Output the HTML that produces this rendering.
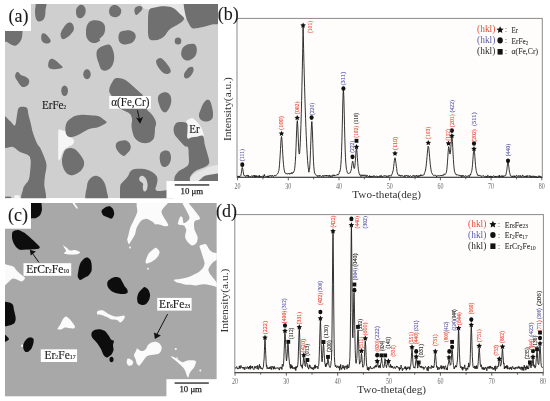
<!DOCTYPE html><html><head><meta charset="utf-8"><title>Microstructure and XRD</title>
<style>html,body{margin:0;padding:0;background:#fff}svg{display:block}text{font-family:'Liberation Serif','DejaVu Serif',serif}</style></head><body>
<svg width="550" height="401" viewBox="0 0 550 401">
<rect width="550" height="401" fill="#fff"/>
<defs><clipPath id="ca"><rect x="5" y="4" width="213" height="194.2"/></clipPath><clipPath id="cc"><rect x="5" y="202.9" width="211.8" height="193.7"/></clipPath><filter id="bl" x="-20%" y="-20%" width="140%" height="140%"><feGaussianBlur stdDeviation="0.45"/></filter><filter id="bl2" x="-20%" y="-20%" width="140%" height="140%"><feGaussianBlur stdDeviation="1.2"/></filter></defs>
<g clip-path="url(#ca)">
<rect x="5" y="4" width="213" height="194.2" fill="#cfcfcf"/>
<g filter="url(#bl)" fill="#e6e6e6">
<path d="M143,2C148.73,1.33 180.53,1.73 186,2C191.47,2.27 184.2,2.93 184,4C183.8,5.07 184.23,8.27 184.5,10C184.77,11.73 185.73,15.8 186,17C186.27,18.2 186.77,18.87 186.5,19C186.23,19.13 184.87,18.67 184,18C183.13,17.33 181.07,15.07 180,14C178.93,12.93 177.07,10.87 176,10C174.93,9.13 173.2,7.97 172,7.5C170.8,7.03 168.6,6.63 167,6.5C165.4,6.37 161.6,6.37 160,6.5C158.4,6.63 156.33,7.17 155,7.5C153.67,7.83 151.2,8.8 150,9C148.8,9.2 146.93,9.27 146,9C145.07,8.73 143.4,7.93 143,7C142.6,6.07 137.27,2.67 143,2Z"/>
<path d="M188.7,183C187.63,182.47 189.43,180.13 190,179C190.57,177.87 191.93,175.5 193,174.5C194.07,173.5 196.67,172.17 198,171.5C199.33,170.83 201.67,170.1 203,169.5C204.33,168.9 206.8,167.47 208,167C209.2,166.53 210.4,166.27 212,166C213.6,165.73 218.93,164.2 220,165C221.07,165.8 221.07,170.8 220,172C218.93,173.2 214,173.53 212,174C210,174.47 206.47,174.97 205,175.5C203.53,176.03 201.93,177 201,178C200.07,179 199.64,182.33 198,183C196.36,183.67 189.77,183.53 188.7,183Z"/>
<ellipse cx="147" cy="6" rx="5" ry="2.5"/>
</g>
<g filter="url(#bl)" fill="#f6f6f6">
<path d="M58.4,130.7C58.76,127.85 61.29,130.47 62,130.5C62.71,130.53 65.1,130.65 65.5,131C65.9,131.35 65.65,133.4 66,134C66.35,134.6 68.3,136.5 69,137C69.7,137.5 72.49,138.5 73,139C73.51,139.5 74.2,141.4 74.1,142C74,142.6 72.61,144.5 72,145C71.39,145.5 68.7,146.6 68,147C67.3,147.4 65.5,148.55 65,149C64.5,149.45 63.35,150.9 63,151.5C62.65,152.1 61.75,154.3 61.5,155C61.25,155.7 60.81,158.1 60.5,158.5C60.19,158.9 58.61,161.78 58.4,159C58.19,156.22 58.04,133.55 58.4,130.7Z"/>
<path d="M186.2,121.5C186.68,120.31 190.92,118.25 191.8,118.1C192.68,117.95 194.33,119.46 195,120C195.67,120.54 197.88,122.76 198.5,123.5C199.12,124.24 200.75,126.55 201.2,127.4C201.65,128.25 202.75,131.13 203,132C203.25,132.87 204.3,135.6 203.7,136.1C203.1,136.6 198.17,136.79 197,137C195.83,137.21 192.96,137.97 192,138.2C191.04,138.43 187.9,140.12 187.4,139.3C186.9,138.48 187.12,131.78 187,130C186.88,128.22 185.72,122.69 186.2,121.5Z"/>
<ellipse cx="17" cy="196.5" rx="3" ry="1.5"/>
<ellipse cx="30.5" cy="157" rx="1.2" ry="1.5"/>
</g>
<g filter="url(#bl)" fill="#6f6f6f">
<path d="M37,2C38.75,1.17 44.58,0.67 46,2C47.42,3.33 45.67,7.67 45.5,10C45.33,12.33 45.42,14.33 45,16C44.58,17.67 43.92,19.08 43,20C42.08,20.92 40.5,21.42 39.5,21.5C38.5,21.58 37.67,21.25 37,20.5C36.33,19.75 35.83,18.58 35.5,17C35.17,15.42 35,12.67 35,11C35,9.33 35.17,8.5 35.5,7C35.83,5.5 35.25,2.83 37,2Z"/>
<path d="M3,25C6.25,22.5 19.25,24 22.5,25C25.75,26 22.58,29 22.5,31C22.42,33 22.33,35.33 22,37C21.67,38.67 21.25,39.75 20.5,41C19.75,42.25 18.5,43.72 17.5,44.5C16.5,45.28 15.58,45.7 14.5,45.7C13.42,45.7 12.25,45.12 11,44.5C9.75,43.88 8.33,42.75 7,42C5.67,41.25 3.67,42.83 3,40C2.33,37.17 -0.25,27.5 3,25Z"/>
<path d="M43,33.3C43.58,33.3 44.67,33.47 45.5,34C46.33,34.53 47.17,35.5 48,36.5C48.83,37.5 50.17,39 50.5,40C50.83,41 50.58,41.92 50,42.5C49.42,43.08 48.08,43.5 47,43.5C45.92,43.5 44.42,43.08 43.5,42.5C42.58,41.92 41.87,41.08 41.5,40C41.13,38.92 41.22,37 41.3,36C41.38,35 41.72,34.45 42,34C42.28,33.55 42.42,33.3 43,33.3Z"/>
<path d="M78,6.5C78.67,5.88 79.58,4.97 80.5,4.8C81.42,4.63 82.67,4.8 83.5,5.5C84.33,6.2 85.2,7.67 85.5,9C85.8,10.33 85.72,12.17 85.3,13.5C84.88,14.83 83.88,16.2 83,17C82.12,17.8 81,18.38 80,18.3C79,18.22 77.67,17.55 77,16.5C76.33,15.45 76.08,13.33 76,12C75.92,10.67 76.17,9.42 76.5,8.5C76.83,7.58 77.33,7.12 78,6.5Z"/>
<path d="M68.5,22.8C69.42,22.55 70.67,22.47 71.5,23C72.33,23.53 73.13,24.83 73.5,26C73.87,27.17 74.12,28.67 73.7,30C73.28,31.33 72.12,32.75 71,34C69.88,35.25 68.33,36.63 67,37.5C65.67,38.37 64,39.28 63,39.2C62,39.12 61.37,38.03 61,37C60.63,35.97 60.47,34.42 60.8,33C61.13,31.58 62.13,29.92 63,28.5C63.87,27.08 65.08,25.45 66,24.5C66.92,23.55 67.58,23.05 68.5,22.8Z"/>
<path d="M90,21.5C91.33,20.62 93.33,20.28 95,20.2C96.67,20.12 98.5,20.37 100,21C101.5,21.63 103.15,22.67 104,24C104.85,25.33 105.1,27.33 105.1,29C105.1,30.67 104.68,32.58 104,34C103.32,35.42 101.75,36.7 101,37.5C100.25,38.3 99.67,38.3 99.5,38.8C99.33,39.3 100.42,39.88 100,40.5C99.58,41.12 98.17,42.08 97,42.5C95.83,42.92 94.33,43.25 93,43C91.67,42.75 90.08,42 89,41C87.92,40 87,38.67 86.5,37C86,35.33 85.92,32.92 86,31C86.08,29.08 86.33,27.08 87,25.5C87.67,23.92 88.67,22.38 90,21.5Z"/>
<path d="M110.5,7C111.13,6.22 111.92,5.55 113,5.3C114.08,5.05 115.75,4.97 117,5.5C118.25,6.03 119.8,7.42 120.5,8.5C121.2,9.58 121.37,10.83 121.2,12C121.03,13.17 120.37,14.63 119.5,15.5C118.63,16.37 117.25,17.03 116,17.2C114.75,17.37 113.08,17.03 112,16.5C110.92,15.97 109.97,15.08 109.5,14C109.03,12.92 109.03,11.17 109.2,10C109.37,8.83 109.87,7.78 110.5,7Z"/>
<path d="M136,7C136.9,6.5 138.93,5.92 140,6C141.07,6.08 142.15,6.75 142.4,7.5C142.65,8.25 142.15,9.5 141.5,10.5C140.85,11.5 139.42,12.75 138.5,13.5C137.58,14.25 136.67,15.25 136,15C135.33,14.75 134.73,13 134.5,12C134.27,11 134.35,9.83 134.6,9C134.85,8.17 135.1,7.5 136,7Z"/>
<path d="M150,9C151.12,7.92 153.33,7.92 155,7.5C156.67,7.08 158,6.67 160,6.5C162,6.33 165,6.33 167,6.5C169,6.67 170.5,6.92 172,7.5C173.5,8.08 174.67,8.92 176,10C177.33,11.08 178.67,12.67 180,14C181.33,15.33 183.5,16.92 184,18C184.5,19.08 183.5,19.77 183,20.5C182.5,21.23 182.33,21.48 181,22.4C179.67,23.32 177,24.73 175,26C173,27.27 170.75,28.33 169,30C167.25,31.67 166,34.5 164.5,36C163,37.5 161.58,38.28 160,39C158.42,39.72 156.67,40.22 155,40.3C153.33,40.38 151.13,40.38 150,39.5C148.87,38.62 148.53,37.42 148.2,35C147.87,32.58 147.98,28.5 148,25C148.02,21.5 147.97,16.67 148.3,14C148.63,11.33 148.88,10.08 150,9Z"/>
<path d="M183.6,2C186.33,1.67 193.93,2 200,2C206.07,2 216.67,0.33 220,2C223.33,3.67 220,8.5 220,12C220,15.5 221.33,20.92 220,23C218.67,25.08 214.5,23.92 212,24.5C209.5,25.08 207.33,25.92 205,26.5C202.67,27.08 200.17,27.75 198,28C195.83,28.25 193.67,29 192,28C190.33,27 189,23.83 188,22C187,20.17 186.58,19 186,17C185.42,15 184.85,11.83 184.5,10C184.15,8.17 184.05,7 183.9,6C183.75,5 183.65,4.67 183.6,4C183.55,3.33 180.87,2.33 183.6,2Z"/>
<path d="M121,31.5C122.17,30.9 124.33,30.52 126,30.4C127.67,30.28 129.58,30.37 131,30.8C132.42,31.23 133.72,31.97 134.5,33C135.28,34.03 135.87,35.58 135.7,37C135.53,38.42 134.62,40.37 133.5,41.5C132.38,42.63 130.58,43.32 129,43.8C127.42,44.28 125.5,44.62 124,44.4C122.5,44.18 120.92,43.48 120,42.5C119.08,41.52 118.67,39.92 118.5,38.5C118.33,37.08 118.58,35.17 119,34C119.42,32.83 119.83,32.1 121,31.5Z"/>
<path d="M184,46.5C185,45.62 186.42,44.65 188,44.2C189.58,43.75 192.17,43.5 193.5,43.8C194.83,44.1 195.45,44.88 196,46C196.55,47.12 196.88,48.92 196.8,50.5C196.72,52.08 196.3,54.08 195.5,55.5C194.7,56.92 193.25,58.15 192,59C190.75,59.85 189.42,60.6 188,60.6C186.58,60.6 184.63,60.02 183.5,59C182.37,57.98 181.45,56.08 181.2,54.5C180.95,52.92 181.53,50.83 182,49.5C182.47,48.17 183,47.38 184,46.5Z"/>
<path d="M16,73C16.47,72.18 17.17,71.77 18,72.1C18.83,72.43 19.83,74.27 21,75C22.17,75.73 23.75,75.83 25,76.5C26.25,77.17 27.8,78.08 28.5,79C29.2,79.92 29.37,80.92 29.2,82C29.03,83.08 28.45,84.65 27.5,85.5C26.55,86.35 24.67,87.1 23.5,87.1C22.33,87.1 21.5,86.52 20.5,85.5C19.5,84.48 18.38,82.42 17.5,81C16.62,79.58 15.45,78.33 15.2,77C14.95,75.67 15.53,73.82 16,73Z"/>
<path d="M49,61C49.55,59.78 50.5,58.87 51.5,58.7C52.5,58.53 53.75,59.2 55,60C56.25,60.8 57.72,62.28 59,63.5C60.28,64.72 62.7,66.42 62.7,67.3C62.7,68.18 60.45,68.48 59,68.8C57.55,69.12 55.5,69.25 54,69.2C52.5,69.15 50.97,69.03 50,68.5C49.03,67.97 48.37,67.25 48.2,66C48.03,64.75 48.45,62.22 49,61Z"/>
<path d="M98,49C99.08,47.83 101.33,46.75 103,46C104.67,45.25 106.67,44.5 108,44.5C109.33,44.5 110.08,44.75 111,46C111.92,47.25 112.97,50 113.5,52C114.03,54 114.28,56 114.2,58C114.12,60 113.7,62.25 113,64C112.3,65.75 111.33,67.38 110,68.5C108.67,69.62 106.5,70.62 105,70.7C103.5,70.78 102,70.12 101,69C100,67.88 99.67,65.83 99,64C98.33,62.17 97.42,59.83 97,58C96.58,56.17 96.33,54.5 96.5,53C96.67,51.5 96.92,50.17 98,49Z"/>
<path d="M157,59.5C157.65,58.92 159,58 160,58C161,58 161.83,58.5 163,59.5C164.17,60.5 165.83,62.5 167,64C168.17,65.5 169.4,67.17 170,68.5C170.6,69.83 171.02,71.08 170.6,72C170.18,72.92 168.68,73.83 167.5,74C166.32,74.17 164.75,73.75 163.5,73C162.25,72.25 161.08,70.83 160,69.5C158.92,68.17 157.65,66.33 157,65C156.35,63.67 156.1,62.42 156.1,61.5C156.1,60.58 156.35,60.08 157,59.5Z"/>
<path d="M189,67.5C189.92,67.08 191.73,66.58 192.5,67C193.27,67.42 193.68,68.83 193.6,70C193.52,71.17 192.77,72.75 192,74C191.23,75.25 190,76.77 189,77.5C188,78.23 186.83,78.57 186,78.4C185.17,78.23 184.25,77.4 184,76.5C183.75,75.6 184,74.17 184.5,73C185,71.83 186.25,70.42 187,69.5C187.75,68.58 188.08,67.92 189,67.5Z"/>
<path d="M159,95C159.85,93.93 161.67,93.03 163,92.6C164.33,92.17 165.83,92 167,92.4C168.17,92.8 169.28,93.73 170,95C170.72,96.27 171.22,98.33 171.3,100C171.38,101.67 171.05,103.33 170.5,105C169.95,106.67 168.92,108.75 168,110C167.08,111.25 166.08,112.5 165,112.5C163.92,112.5 162.5,111.42 161.5,110C160.5,108.58 159.6,105.83 159,104C158.4,102.17 157.9,100.5 157.9,99C157.9,97.5 158.15,96.07 159,95Z"/>
<path d="M204.5,102C205.17,101.17 205.75,100.33 206.5,100C207.25,99.67 208.33,99.67 209,100C209.67,100.33 210,100.83 210.5,102C211,103.17 211.58,105.17 212,107C212.42,108.83 212.92,111.17 213,113C213.08,114.83 213,116.75 212.5,118C212,119.25 211.08,119.92 210,120.5C208.92,121.08 207.33,121.5 206,121.5C204.67,121.5 203.08,121.08 202,120.5C200.92,119.92 200,119 199.5,118C199,117 198.83,115.83 199,114.5C199.17,113.17 199.92,111.58 200.5,110C201.08,108.42 201.83,106.33 202.5,105C203.17,103.67 203.83,102.83 204.5,102Z"/>
<path d="M115,78.5C116.33,77.8 118.33,78.1 120,78.3C121.67,78.5 123.33,78.85 125,79.7C126.67,80.55 128.33,82.03 130,83.4C131.67,84.77 133.33,86.38 135,87.9C136.67,89.42 138.67,91.15 140,92.5C141.33,93.85 141.92,93.3 143,96C144.08,98.7 145.33,105.95 146.5,108.7C147.67,111.45 148.92,111.28 150,112.5C151.08,113.72 152.08,114.67 153,116C153.92,117.33 155,119.1 155.5,120.5C156,121.9 156.08,123.15 156,124.4C155.92,125.65 155.2,126.57 155,128C154.8,129.43 155.05,131.17 154.8,133C154.55,134.83 154.47,137.42 153.5,139C152.53,140.58 150.75,141.83 149,142.5C147.25,143.17 144.83,143.25 143,143C141.17,142.75 139.42,141.92 138,141C136.58,140.08 135.42,139 134.5,137.5C133.58,136 133,133.92 132.5,132C132,130.08 131.58,128.17 131.5,126C131.42,123.83 132.25,121 132,119C131.75,117 131.17,115.33 130,114C128.83,112.67 126.58,111.92 125,111C123.42,110.08 122.17,110.17 120.5,108.5C118.83,106.83 116.67,103.42 115,101C113.33,98.58 111.47,95.68 110.5,94C109.53,92.32 109.28,92.17 109.2,90.9C109.12,89.63 109.53,87.8 110,86.4C110.47,85 111.17,83.82 112,82.5C112.83,81.18 113.67,79.2 115,78.5Z"/>
<path d="M22,106.7C23.42,106.67 25.92,106.62 27,108C28.08,109.38 27.92,112.6 28.5,115C29.08,117.4 29.75,119.4 30.5,122.4C31.25,125.4 31.92,129.5 33,133C34.08,136.5 35.83,140.98 37,143.4C38.17,145.82 38.83,145.32 40,147.5C41.17,149.68 42.92,153.52 44,156.5C45.08,159.48 46.33,162.15 46.5,165.4C46.67,168.65 45.37,172.73 45,176C44.63,179.27 44.37,180.83 44.3,185C44.23,189.17 48.23,198.33 44.6,201C40.97,203.67 26.1,202.93 22.5,201C18.9,199.07 22.58,192.07 23,189.4C23.42,186.73 24,186.73 25,185C26,183.27 28.08,182 29,179C29.92,176 30.25,170.25 30.5,167C30.75,163.75 30.92,161.5 30.5,159.5C30.08,157.5 29.75,156.25 28,155C26.25,153.75 22.5,153.33 20,152C17.5,150.67 15.83,148.08 13,147C10.17,145.92 4.67,150.5 3,145.5C1.33,140.5 1.83,121.08 3,117C4.17,112.92 8,119.6 10,121C12,122.4 13.83,126.4 15,125.4C16.17,124.4 16.42,117.87 17,115C17.58,112.13 17.67,109.58 18.5,108.2C19.33,106.82 20.58,106.73 22,106.7Z"/>
<path d="M70,119C71.33,118 73,116.7 75,116C77,115.3 79.5,114.93 82,114.8C84.5,114.67 87.33,115 90,115.2C92.67,115.4 96,115.5 98,116C100,116.5 100.57,117.2 102,118.2C103.43,119.2 106.27,121 106.6,122C106.93,123 105.43,123.33 104,124.2C102.57,125.07 100.33,126.45 98,127.2C95.67,127.95 92.17,128.07 90,128.7C87.83,129.33 86.67,130.12 85,131C83.33,131.88 81.67,133.13 80,134C78.33,134.87 76.5,135.7 75,136.2C73.5,136.7 72.33,137.13 71,137C69.67,136.87 67.92,136.4 67,135.4C66.08,134.4 65.75,132.5 65.5,131C65.25,129.5 65.25,127.9 65.5,126.4C65.75,124.9 66.25,123.23 67,122C67.75,120.77 68.67,120 70,119Z"/>
<path d="M64,152C64.83,150.13 65.67,149.43 67,148.8C68.33,148.17 70.5,148 72,148.2C73.5,148.4 74.67,148.95 76,150C77.33,151.05 78.75,152.83 80,154.5C81.25,156.17 82.83,158.25 83.5,160C84.17,161.75 84.33,163.33 84,165C83.67,166.67 82.83,168.5 81.5,170C80.17,171.5 77.83,173.13 76,174C74.17,174.87 72.17,175.45 70.5,175.2C68.83,174.95 67.25,173.87 66,172.5C64.75,171.13 63.67,169.08 63,167C62.33,164.92 61.83,162.5 62,160C62.17,157.5 63.17,153.87 64,152Z"/>
<path d="M86.7,201C83.43,198.5 86.62,189.5 87,186C87.38,182.5 88,181.58 89,180C90,178.42 91.67,177.17 93,176.5C94.33,175.83 95.67,175.75 97,176C98.33,176.25 99.75,176.83 101,178C102.25,179.17 103.58,181 104.5,183C105.42,185 106.15,187 106.5,190C106.85,193 109.9,199.17 106.6,201C103.3,202.83 89.97,203.5 86.7,201Z"/>
<path d="M117,142.5C117.88,141.63 119.67,141.18 121,140.8C122.33,140.42 123.75,140 125,140.2C126.25,140.4 127.55,141.03 128.5,142C129.45,142.97 130.45,144.67 130.7,146C130.95,147.33 130.62,148.75 130,150C129.38,151.25 128,152.5 127,153.5C126,154.5 125.08,155.92 124,156C122.92,156.08 121.67,155 120.5,154C119.33,153 117.8,151.33 117,150C116.2,148.67 115.7,147.25 115.7,146C115.7,144.75 116.12,143.37 117,142.5Z"/>
<path d="M130.1,171.8C130.83,170.87 131.68,170.12 132.9,169.6C134.12,169.08 135.52,168.8 137.4,168.7C139.28,168.6 142.13,168.67 144.2,169C146.27,169.33 148.13,169.95 149.8,170.7C151.47,171.45 153,172.47 154.2,173.5C155.4,174.53 156.47,175.68 157,176.9C157.53,178.12 157.48,179.4 157.4,180.8C157.32,182.2 156.83,183.9 156.5,185.3C156.17,186.7 155.22,188.27 155.4,189.2C155.58,190.13 156.48,190.65 157.6,190.9C158.72,191.15 160.57,190.8 162.1,190.7C163.63,190.6 165.15,190.42 166.8,190.3C168.45,190.18 171.13,188.22 172,190C172.87,191.78 176.33,199.17 172,201C167.67,202.83 154.67,201 146,201C137.33,201 124.33,201.33 120,201C115.67,200.67 120,199.83 120,199C120,198.17 120,197.18 120,196C120,194.82 119.93,193.68 120,191.9C120.07,190.12 120.02,186.87 120.4,185.3C120.78,183.73 121.42,183.53 122.3,182.5C123.18,181.47 124.67,180.32 125.7,179.1C126.73,177.88 127.77,176.42 128.5,175.2C129.23,173.98 129.37,172.73 130.1,171.8Z"/>
<path d="M161,152.5C161.83,151.75 163.67,150.67 165,150.5C166.33,150.33 168.02,150.58 169,151.5C169.98,152.42 170.65,154.42 170.9,156C171.15,157.58 170.98,159.42 170.5,161C170.02,162.58 169.08,164.5 168,165.5C166.92,166.5 165.17,167.17 164,167C162.83,166.83 161.72,165.83 161,164.5C160.28,163.17 159.87,160.58 159.7,159C159.53,157.42 159.78,156.08 160,155C160.22,153.92 160.17,153.25 161,152.5Z"/>
<path d="M176.9,122.5C178.38,121.57 180.88,121.9 182.6,122.1C184.32,122.3 186.38,122.38 187.2,123.7C188.02,125.02 187.45,127.57 187.5,130C187.55,132.43 186.75,137.08 187.5,138.3C188.25,139.52 190.42,137.55 192,137.3C193.58,137.05 195.18,137.03 197,136.8C198.82,136.57 201.58,134.53 202.9,135.9C204.22,137.27 204.15,142.03 204.9,145C205.65,147.97 206.67,150.9 207.4,153.7C208.13,156.5 209.3,159.83 209.3,161.8C209.3,163.77 208.55,164.47 207.4,165.5C206.25,166.53 204.27,167.17 202.4,168C200.53,168.83 197.87,169.55 196.2,170.5C194.53,171.45 193.45,172.55 192.4,173.7C191.35,174.85 190.52,175.85 189.9,177.4C189.28,178.95 191.28,182.07 188.7,183C186.12,183.93 176.78,183.52 174.4,183C172.02,182.48 174.3,181.05 174.4,179.9C174.5,178.75 174.28,177.55 175,176.1C175.72,174.65 177.03,172.65 178.7,171.2C180.37,169.75 183.33,168.65 185,167.4C186.67,166.15 188.08,165.77 188.7,163.7C189.32,161.63 188.8,157.7 188.7,155C188.6,152.3 188.72,148.97 188.1,147.5C187.48,146.03 186.15,147.03 185,146.2C183.85,145.37 182.42,143.78 181.2,142.5C179.98,141.22 178.82,139.88 177.7,138.5C176.58,137.12 175.17,136 174.5,134.2C173.83,132.4 173.3,129.65 173.7,127.7C174.1,125.75 175.42,123.43 176.9,122.5Z"/>
<path d="M199,183C196,182.17 200.83,179.25 202,178C203.17,176.75 204.33,176.08 206,175.5C207.67,174.92 209.67,174.75 212,174.5C214.33,174.25 218.67,172.58 220,174C221.33,175.42 223.5,181.5 220,183C216.5,184.5 202,183.83 199,183Z"/>
<ellipse cx="8" cy="197.6" rx="3.5" ry="1.2"/>
<ellipse cx="178" cy="41" rx="3.3" ry="3.6"/>
<ellipse cx="87" cy="74.2" rx="3.7" ry="5"/>
<ellipse cx="64.6" cy="90.8" rx="3.4" ry="5.2"/>
</g>
<g filter="url(#bl)" fill="#cfcfcf">
<path d="M139.5,177.5C139.92,176.72 141.17,175.88 142,175.8C142.83,175.72 143.78,176.38 144.5,177C145.22,177.62 145.8,178.33 146.3,179.5C146.8,180.67 147.35,182.5 147.5,184C147.65,185.5 147.53,187.3 147.2,188.5C146.87,189.7 146.12,190.82 145.5,191.2C144.88,191.58 143.95,191.5 143.5,190.8C143.05,190.1 142.85,188.13 142.8,187C142.75,185.87 143.42,184.8 143.2,184C142.98,183.2 142.12,182.78 141.5,182.2C140.88,181.62 139.83,181.28 139.5,180.5C139.17,179.72 139.08,178.28 139.5,177.5Z" fill="#d6d6d6"/>
</g>
</g>
<rect x="0" y="0" width="31" height="31" fill="#fff"/>
<text x="8.6" y="21.8" font-size="18" fill="#1a1a1a" stroke="#1a1a1a" stroke-width="0.12">(a)</text>
<rect x="109.3" y="96" width="41.6" height="12.7" fill="#fff"/>
<text x="111.2" y="105.8" font-size="11.5" fill="#1a1a1a" stroke="#1a1a1a" stroke-width="0.12" textLength="38.2" lengthAdjust="spacingAndGlyphs">α(Fe,Cr)</text>
<path d="M137.4,110.2L139.6,120" stroke="#111" stroke-width="1"/><path d="M136,117.4L140.1,123.8L143.2,116.8L139.7,118.8Z" fill="#111"/>
<text x="41.9" y="109.2" font-size="11.5" fill="#1e1e1e" stroke="#1e1e1e" stroke-width="0.15" textLength="24.4" lengthAdjust="spacingAndGlyphs">ErFe<tspan font-size="5.6" dy="0.2">2</tspan></text>
<text x="189.3" y="132.6" font-size="11.5" fill="#1e1e1e" stroke="#1e1e1e" stroke-width="0.15" textLength="10.4" lengthAdjust="spacingAndGlyphs">Er</text>
<rect x="166.5" y="181" width="52" height="17.5" fill="#fff"/>
<rect x="174.7" y="184.3" width="34.6" height="1.3" fill="#222"/>
<text x="180.6" y="193.6" font-size="8.8" fill="#222" stroke="#222" stroke-width="0.25" textLength="22.4" lengthAdjust="spacing">10 μm</text>
<g clip-path="url(#cc)">
<rect x="5" y="202.9" width="211.8" height="193.7" fill="#a8a8a8"/>
<g filter="url(#bl)" fill="#fbfbfb">
<path d="M71.8,202C71.4,201.15 72.83,201.28 73.6,202C74.37,202.72 77.2,206.55 77.6,207.4C78,208.25 77.37,209.12 76.6,208.4C75.83,207.68 72.2,202.85 71.8,202Z"/>
<path d="M63,245.2C63.33,245.2 66.07,247.29 67,248C67.93,248.71 68.93,250.23 70,250.5C71.07,250.77 73.8,249.87 75,250C76.2,250.13 78.33,251.1 79,251.5C79.67,251.9 80.4,252.6 80,253C79.6,253.4 77.6,254.3 76,254.5C74.4,254.7 69.6,254.63 68,254.5C66.4,254.37 64.27,253.97 64,253.5C63.73,253.03 65.93,251.73 66,251C66.07,250.27 64.9,248.77 64.5,248C64.1,247.23 62.67,245.2 63,245.2Z"/>
<path d="M149,253C149.8,252 152.07,250.19 153,249.5C153.93,248.81 155.13,247.53 156,247.8C156.87,248.07 159.17,250.47 159.5,251.5C159.83,252.53 159.1,254.43 158.5,255.5C157.9,256.57 156.13,258.57 155,259.5C153.87,260.43 151.13,261.97 150,262.5C148.87,263.03 147.09,263.63 146.5,263.5C145.91,263.37 145.53,262.37 145.6,261.5C145.67,260.63 146.55,258.13 147,257C147.45,255.87 148.2,254 149,253Z"/>
<path d="M57.5,329C57.37,328.4 59.27,326.33 60,325C60.73,323.67 62.2,320.13 63,319C63.8,317.87 65.2,316.57 66,316.5C66.8,316.43 68.2,317.77 69,318.5C69.8,319.23 71.2,320.93 72,322C72.8,323.07 74.8,325.63 75,326.5C75.2,327.37 74.3,328.3 73.5,328.5C72.7,328.7 70.13,328.13 69,328C67.87,327.87 66.07,327.3 65,327.5C63.93,327.7 62,329.3 61,329.5C60,329.7 57.63,329.6 57.5,329Z"/>
<path d="M97,312C97.2,311.48 98.33,310.83 99,310.6C99.67,310.37 101.27,310.22 102,310.3C102.73,310.38 103.61,310.71 104.5,311.2C105.39,311.69 107.25,313.28 108.7,314C110.15,314.72 113.8,316.33 115.4,316.6C117,316.87 119.55,316.15 120.7,316C121.85,315.85 123.45,315.3 124,315.5C124.55,315.7 125,316.77 124.8,317.5C124.6,318.23 123.14,320.33 122.5,321C121.86,321.67 120.73,322.63 120,322.5C119.27,322.37 118.2,320.44 117,320C115.8,319.56 112.41,319.63 111,319.2C109.59,318.77 107.71,317.37 106.4,316.8C105.09,316.23 102.39,315.21 101.2,314.9C100.01,314.59 98.06,314.89 97.5,314.5C96.94,314.11 96.8,312.52 97,312Z"/>
<path d="M148,345C148.8,344.11 150.93,342.74 152,342.3C153.07,341.86 155,341.54 156,341.7C157,341.86 158.75,342.79 159.5,343.5C160.25,344.21 161.4,346 161.6,347C161.8,348 161.48,350.07 161,351C160.52,351.93 159.2,353.47 158,354C156.8,354.53 153.27,354.8 152,355C150.73,355.2 149.3,355.23 148.5,355.5C147.7,355.77 146.73,356.27 146,357C145.27,357.73 143.87,359.85 143,361C142.13,362.15 140.3,365.2 139.5,365.6C138.7,366 137.53,364.88 137,364C136.47,363.12 135.9,360.2 135.5,359C135.1,357.8 133.93,356.07 134,355C134.07,353.93 135.6,351.87 136,351C136.4,350.13 136.47,348.57 137,348.5C137.53,348.43 139.2,350.17 140,350.5C140.8,350.83 142.2,351.2 143,351C143.8,350.8 145.33,349.8 146,349C146.67,348.2 147.2,345.89 148,345Z"/>
<path d="M128,358.5C128.53,358.43 130.31,359.03 131,359.5C131.69,359.97 133.07,361.27 133.2,362C133.33,362.73 132.63,364.52 132,365C131.37,365.48 129.19,365.87 128.5,365.6C127.81,365.33 127,363.75 126.8,363C126.6,362.25 126.84,360.6 127,360C127.16,359.4 127.47,358.57 128,358.5Z"/>
<path d="M170.8,356.2C170.93,356.03 172.67,356.65 173.5,357C174.33,357.35 176.07,358.24 177,358.8C177.93,359.36 179.7,360.75 180.5,361.2C181.3,361.65 182.27,362.23 183,362.2C183.73,362.17 185.13,361.27 186,361C186.87,360.73 188.57,360.29 189.5,360.2C190.43,360.11 192.16,360.17 193,360.3C193.84,360.43 195.47,360.71 195.8,361.2C196.13,361.69 195.74,363.16 195.5,364C195.26,364.84 194.53,366.63 194,367.5C193.47,368.37 192.1,369.7 191.5,370.5C190.9,371.3 189.94,372.57 189.5,373.5C189.06,374.43 188.56,377.23 188.2,377.5C187.84,377.77 187.16,376.3 186.8,375.5C186.44,374.7 185.94,372.5 185.5,371.5C185.06,370.5 184.23,368.93 183.5,368C182.77,367.07 181,365.43 180,364.5C179,363.57 177,361.83 176,361C175,360.17 173.19,358.94 172.5,358.3C171.81,357.66 170.67,356.37 170.8,356.2Z"/>
<path d="M138.7,200C142.79,198.4 164.01,199.6 167.9,200C171.79,200.4 168.75,201.4 167.9,203C167.05,204.6 161.46,209.11 161.5,212C161.54,214.89 167.8,222.81 168.2,224.7C168.6,226.59 165.59,226.2 164.5,226.2C163.41,226.2 161.27,224.97 160,224.7C158.73,224.43 155.85,224.51 155,224.2C154.15,223.89 154.28,222.93 153.6,222.4C152.92,221.87 150.89,220.69 149.9,220.2C148.91,219.71 147.29,218.7 146.2,218.7C145.11,218.7 142.7,219.51 141.7,220.2C140.7,220.89 139.41,222.81 138.7,223.9C137.99,224.99 136.89,227 136.4,228.4C135.91,229.8 135.79,232.6 135,234.4C134.21,236.2 131.34,240.61 130.5,241.9C129.66,243.19 129.14,244.41 128.7,244.1C128.26,243.79 127.27,240.69 127.2,239.6C127.13,238.51 127.76,237.59 128.2,235.9C128.64,234.21 129.79,228.9 130.5,226.9C131.21,224.9 132.61,222.89 133.5,220.9C134.39,218.91 136.51,214.79 137.2,212C137.89,209.21 134.61,201.6 138.7,200Z"/>
<path d="M182.4,200C183.24,199.6 187.86,199.6 188.7,200C189.54,200.4 187.21,200.64 188.7,203C190.19,205.36 199.03,215.34 199.9,217.7C200.77,220.06 195.99,219.91 195.2,220.7C194.41,221.49 194.08,222.36 194,223.6C193.92,224.84 194.12,228.21 194.6,230C195.08,231.79 197.36,235.27 197.6,237C197.84,238.73 197.15,241.85 196.4,243C195.65,244.15 193.19,245.76 192,245.6C190.81,245.44 188.42,242.95 187.5,241.8C186.58,240.65 185.26,238.57 185.1,237C184.94,235.43 186.22,231.15 186.3,230C186.38,228.85 186.01,229.01 185.7,228.4C185.39,227.79 184.76,225.85 184,225.4C183.24,224.95 180.81,225.19 180,225C179.19,224.81 178.13,224.44 177.9,224C177.67,223.56 177.99,222.66 178.3,221.7C178.61,220.74 179.65,217.4 180.2,216.8C180.75,216.2 181.91,216.35 182.4,217.2C182.89,218.05 182.95,223.15 183.9,223.2C184.85,223.25 189.7,220.29 189.5,217.6C189.3,214.91 183.35,205.35 182.4,203C181.45,200.65 181.56,200.4 182.4,200Z"/>
<path d="M200.7,250C200.17,248.27 199.19,246.73 199.5,246C199.81,245.27 202.13,244.74 203,244.5C203.87,244.26 205.11,243.47 206,244.2C206.89,244.93 208.83,248.93 209.7,250C210.57,251.07 211.53,251.79 212.5,252.2C213.47,252.61 216,252.99 217,253.1C218,253.21 219.6,252.13 220,253C220.4,253.87 220.4,258.72 220,259.6C219.6,260.48 218.08,259.08 217,259.6C215.92,260.12 213.03,262.23 211.9,263.5C210.77,264.77 208.79,267.75 208.5,269.1C208.21,270.45 208.94,272.25 209.7,273.6C210.46,274.95 213.23,278 214.2,279.2C215.17,280.4 216.23,282.15 217,282.6C217.77,283.05 219.6,282 220,282.6C220.4,283.2 220.4,286.5 220,287.1C219.6,287.7 218,287.29 217,287.1C216,286.91 214.3,286.07 212.5,285.7C210.7,285.33 205.75,284.34 203.5,284.3C201.25,284.26 197.4,285.33 195.6,285.4C193.8,285.47 191.41,284.92 190,284.8C188.59,284.68 186.35,284.74 185,284.5C183.65,284.26 180.98,283.25 179.9,283C178.82,282.75 177.7,282.92 176.9,282.6C176.1,282.28 174.19,281 173.9,280.6C173.61,280.2 173.9,279.83 174.7,279.6C175.5,279.37 178.53,279.13 179.9,278.9C181.27,278.67 183.65,278.23 185,277.9C186.35,277.57 188.73,276.89 190,276.4C191.27,275.91 193.3,274.8 194.5,274.2C195.7,273.6 197.88,272.73 199,271.9C200.12,271.07 202.15,269.12 202.9,268C203.65,266.88 204.52,264.7 204.6,263.5C204.68,262.3 204.02,260.8 203.5,259C202.98,257.2 201.23,251.73 200.7,250Z"/>
<ellipse cx="175.8" cy="349" rx="1.1" ry="1"/>
<ellipse cx="200.3" cy="370.6" rx="1" ry="1"/>
<ellipse cx="148" cy="268.7" rx="0.9" ry="0.9"/>
<ellipse cx="22.3" cy="345.8" rx="1.3" ry="1.2"/>
<ellipse cx="177" cy="358" rx="0.8" ry="0.8"/>
<ellipse cx="130" cy="247.5" rx="1" ry="1"/>
<ellipse cx="128.8" cy="242.5" rx="0.8" ry="0.8"/>
</g>
<path d="M3,264C3.4,261.27 5.07,264.3 6,264.5C6.93,264.7 8.93,265.17 10,265.5C11.07,265.83 13.07,266.27 14,267C14.93,267.73 16.07,270 17,271C17.93,272 19.93,273.57 21,274.5C22.07,275.43 24.87,277.07 25,278C25.13,278.93 22.93,281.23 22,281.5C21.07,281.77 19.2,280.4 18,280C16.8,279.6 14.07,278.43 13,278.5C11.93,278.57 10.8,279.83 10,280.5C9.2,281.17 7.93,282.9 7,283.5C6.07,284.1 3.53,287.6 3,285C2.47,282.4 2.6,266.73 3,264Z" fill="#fafafa" filter="url(#bl)"/>
<g filter="url(#bl)" fill="#0c0c0c">
<path d="M29,201C30.28,199.13 38.54,200.65 40,201C41.46,201.35 41.28,202.95 41.5,204C41.72,205.05 42.07,208.69 41.9,210C41.73,211.31 40.69,214.27 40,215.2C39.31,216.13 37.05,217.65 36,218C34.95,218.35 31.82,218.32 31,218.2C30.18,218.08 29.23,219.01 29,217C28.77,214.99 27.72,202.87 29,201Z"/>
<path d="M12.5,232C12.85,231.47 14.24,230.71 15,230.5C15.76,230.29 17.95,229.97 19,230.2C20.05,230.43 22.83,231.76 24,232.5C25.17,233.24 27.79,235.46 29,236.5C30.21,237.54 33.15,240.2 34.4,241.4C35.65,242.6 39.22,245.94 39.7,246.8C40.18,247.66 39.16,248.51 38.5,248.8C37.84,249.09 35.34,249.21 34,249.3C32.66,249.39 28.63,249.54 27,249.6C25.37,249.66 21.23,250.05 20,249.8C18.77,249.56 17.2,248.18 16.5,247.5C15.8,246.82 14.5,244.99 14,244C13.5,243.01 12.43,240.05 12.2,239C11.97,237.95 11.96,235.82 12,235C12.04,234.18 12.15,232.53 12.5,232Z"/>
<path d="M3,303C3.82,300.4 8.83,302.47 10,302.7C11.17,302.93 12.53,304.15 13,305C13.47,305.85 13.69,308.48 14,310C14.31,311.52 15.64,316.48 15.7,318C15.76,319.52 15.16,322.16 14.5,323C13.84,323.84 11.34,324.97 10,325.2C8.66,325.43 3.82,327.59 3,325C2.18,322.41 2.18,305.6 3,303Z"/>
<path d="M3,334.9C3.35,334.14 5.3,335.02 6,335.5C6.7,335.98 9,338.3 9,339C9,339.7 6.7,341.15 6,341.5C5.3,341.85 3.35,342.77 3,342C2.65,341.23 2.65,335.66 3,334.9Z"/>
<path d="M25,341C25.56,340.18 27.24,338.4 28,338C28.76,337.6 30.84,337.43 31.5,337.6C32.16,337.78 33.5,338.75 33.7,339.5C33.9,340.25 33.46,342.95 33.2,344C32.94,345.05 32.05,347.62 31.5,348.5C30.95,349.38 29.2,351.09 28.5,351.5C27.8,351.91 26.08,352.29 25.5,352C24.92,351.71 23.77,349.82 23.5,349C23.23,348.18 23.02,345.93 23.2,345C23.38,344.07 24.44,341.82 25,341Z"/>
<path d="M102,210C102.5,209.36 105.07,207.44 106,207C106.93,206.56 109.18,205.97 110,206.2C110.82,206.43 112.51,208.09 113,209C113.49,209.91 114.32,212.88 114.2,214C114.08,215.12 112.72,218.19 112,218.6C111.28,219.01 108.99,217.86 108,217.5C107.01,217.14 104.23,216.08 103.5,215.5C102.77,214.92 101.88,213.14 101.7,212.5C101.53,211.86 101.5,210.64 102,210Z"/>
<path d="M81,262C81.58,261.15 83.74,258.72 84.5,258.2C85.26,257.68 86.8,257.29 87.5,257.5C88.2,257.71 90.01,259.12 90.5,260C90.99,260.88 91.58,263.72 91.7,265C91.82,266.28 91.87,269.77 91.5,271C91.13,272.23 89.38,274.68 88.5,275.5C87.62,276.32 84.99,277.49 84,278C83.01,278.51 80.73,280.07 80,279.9C79.27,279.72 77.88,277.65 77.7,276.5C77.53,275.35 78.29,271.28 78.5,270C78.71,268.72 79.21,266.43 79.5,265.5C79.79,264.57 80.42,262.85 81,262Z"/>
<path d="M108,281C108.56,280.24 111.07,278.48 112,278C112.93,277.52 115.07,276.9 116,276.9C116.93,276.9 119.18,277.29 120,278C120.82,278.71 122.47,282.07 123,283C123.53,283.93 124.03,285.3 124.5,286C124.97,286.7 126.63,288.24 127,289C127.37,289.76 128.05,291.9 127.7,292.5C127.35,293.1 125.13,293.98 124,294.1C122.87,294.22 119.4,293.8 118,293.5C116.6,293.2 113.11,292.14 112,291.5C110.89,290.86 109.06,288.82 108.5,288C107.94,287.18 107.26,285.32 107.2,284.5C107.14,283.68 107.44,281.76 108,281Z"/>
<path d="M141,290C141.58,289.36 143.03,287.84 143.5,287.5C143.97,287.16 144.42,286.81 145,287.1C145.58,287.39 147.91,289.08 148.5,290C149.09,290.92 150.04,293.83 150.1,295C150.16,296.17 149.48,298.95 149,300C148.52,301.05 146.82,303.4 146,304C145.18,304.6 142.93,305.22 142,305.1C141.07,304.98 138.57,303.83 138,303C137.43,302.17 137.04,299.17 137.1,298C137.16,296.83 138.04,293.93 138.5,293C138.96,292.07 140.42,290.64 141,290Z"/>
<path d="M92,332C92.42,331.39 94.07,330.13 95,329.8C95.93,329.47 98.83,329.06 100,329.2C101.17,329.34 103.95,330.21 105,331C106.05,331.79 108.3,335.01 109,336C109.7,336.99 110.43,338.92 111,339.5C111.57,340.08 113.67,340.36 113.9,341C114.13,341.64 113.05,343.95 113,345C112.95,346.05 113.67,348.89 113.5,350C113.33,351.11 112.26,353.61 111.5,354.5C110.74,355.39 107.93,357.54 107,357.6C106.07,357.66 104.2,356 103.5,355C102.8,354 101.76,350.4 101,349C100.24,347.6 97.99,344.28 97,343C96.01,341.72 93.15,338.93 92.5,338C91.85,337.07 91.46,335.7 91.4,335C91.34,334.3 91.58,332.61 92,332Z"/>
<ellipse cx="111.5" cy="359.5" rx="2" ry="2.8"/>
</g>
</g>
<rect x="0" y="202" width="31" height="26.7" fill="#fff"/>
<text x="8.0" y="220.5" font-size="18" fill="#1a1a1a" stroke="#1a1a1a" stroke-width="0.12">(c)</text>
<rect x="23.5" y="263.2" width="47.7" height="12.6" fill="#fff"/>
<text x="26.2" y="272.9" font-size="11.5" fill="#1e1e1e" stroke="#1e1e1e" stroke-width="0.15" textLength="43" lengthAdjust="spacingAndGlyphs">ErCr<tspan font-size="5.8" dy="0.3">2</tspan><tspan dy="-0.3">Fe</tspan><tspan font-size="5.8" dy="0.3">10</tspan></text>
<path d="M38.9,262.4L31.5,252" stroke="#111" stroke-width="1"/><path d="M29.9,249.7L30.7,255.6L35.9,251.6Z" fill="#111"/>
<rect x="157.2" y="297.9" width="34.4" height="12.7" fill="#fff"/>
<text x="159.1" y="307.7" font-size="11.5" fill="#1e1e1e" stroke="#1e1e1e" stroke-width="0.15" textLength="31.1" lengthAdjust="spacingAndGlyphs">Er<tspan font-size="5.8" dy="0.3">6</tspan><tspan dy="-0.3">Fe</tspan><tspan font-size="5.8" dy="0.3">23</tspan></text>
<path d="M167.6,314.1L156.2,335.8" stroke="#111" stroke-width="1"/><path d="M154.9,338.9L153.9,332.4L160.9,335.6Z" fill="#111"/>
<rect x="40.8" y="349.3" width="36.3" height="12.7" fill="#fff"/>
<text x="44.5" y="359.1" font-size="11.5" fill="#1e1e1e" stroke="#1e1e1e" stroke-width="0.15" textLength="31.1" lengthAdjust="spacingAndGlyphs">Er<tspan font-size="5.8" dy="0.3">2</tspan><tspan dy="-0.3">Fe</tspan><tspan font-size="5.8" dy="0.3">17</tspan></text>
<rect x="166.4" y="379.2" width="52" height="18" fill="#fff"/>
<rect x="174.6" y="382.4" width="34.2" height="1.3" fill="#222"/>
<text x="179.5" y="391.8" font-size="8.8" fill="#222" stroke="#222" stroke-width="0.25" textLength="22.4" lengthAdjust="spacing">10 μm</text>
<rect x="237" y="18.4" width="305.3" height="158.9" fill="#fefdfb" stroke="#8a8a8a" stroke-width="1"/>
<line x1="237" y1="177.3" x2="542.3" y2="177.3" stroke="#3a3a3a" stroke-width="1"/>
<line x1="237.6" y1="177.3" x2="237.6" y2="180.3" stroke="#3a3a3a" stroke-width="0.8"/>
<text x="234.6" y="188.8" font-size="7.2" fill="#666" textLength="6" lengthAdjust="spacingAndGlyphs">20</text>
<line x1="262.95" y1="177.3" x2="262.95" y2="179.3" stroke="#3a3a3a" stroke-width="0.8"/>
<line x1="288.3" y1="177.3" x2="288.3" y2="180.3" stroke="#3a3a3a" stroke-width="0.8"/>
<text x="285.3" y="188.8" font-size="7.2" fill="#666" textLength="6" lengthAdjust="spacingAndGlyphs">30</text>
<line x1="313.65" y1="177.3" x2="313.65" y2="179.3" stroke="#3a3a3a" stroke-width="0.8"/>
<line x1="339" y1="177.3" x2="339" y2="180.3" stroke="#3a3a3a" stroke-width="0.8"/>
<text x="336" y="188.8" font-size="7.2" fill="#666" textLength="6" lengthAdjust="spacingAndGlyphs">40</text>
<line x1="364.35" y1="177.3" x2="364.35" y2="179.3" stroke="#3a3a3a" stroke-width="0.8"/>
<line x1="389.7" y1="177.3" x2="389.7" y2="180.3" stroke="#3a3a3a" stroke-width="0.8"/>
<text x="386.7" y="188.8" font-size="7.2" fill="#666" textLength="6" lengthAdjust="spacingAndGlyphs">50</text>
<line x1="415.05" y1="177.3" x2="415.05" y2="179.3" stroke="#3a3a3a" stroke-width="0.8"/>
<line x1="440.4" y1="177.3" x2="440.4" y2="180.3" stroke="#3a3a3a" stroke-width="0.8"/>
<text x="437.4" y="188.8" font-size="7.2" fill="#666" textLength="6" lengthAdjust="spacingAndGlyphs">60</text>
<line x1="465.75" y1="177.3" x2="465.75" y2="179.3" stroke="#3a3a3a" stroke-width="0.8"/>
<line x1="491.1" y1="177.3" x2="491.1" y2="180.3" stroke="#3a3a3a" stroke-width="0.8"/>
<text x="488.1" y="188.8" font-size="7.2" fill="#666" textLength="6" lengthAdjust="spacingAndGlyphs">70</text>
<line x1="516.45" y1="177.3" x2="516.45" y2="179.3" stroke="#3a3a3a" stroke-width="0.8"/>
<line x1="541.8" y1="177.3" x2="541.8" y2="180.3" stroke="#3a3a3a" stroke-width="0.8"/>
<text x="538.8" y="188.8" font-size="7.2" fill="#666" textLength="6" lengthAdjust="spacingAndGlyphs">80</text>
<polyline fill="none" stroke="#1c1c1c" stroke-width="0.9" stroke-linejoin="round" points="237.6,176.38 237.93,176.95 238.26,175.92 238.59,176.71 238.92,176.17 239.25,176.05 239.58,177.05 239.91,176.25 240.24,175.88 240.57,175.91 240.9,175.48 241.23,173.65 241.56,171.86 241.89,168.72 242.22,167.47 242.3,167.4 242.55,167.9 242.88,169.53 243.21,171.74 243.54,174.06 243.87,175.14 244.2,175.55 244.53,175.96 244.86,175.4 245.19,176.01 245.52,176.3 245.85,176.63 246.18,175.9 246.51,176.03 246.84,175.26 247.17,175.91 247.5,175.17 247.83,175.46 248.16,176.77 248.49,175.32 248.82,176.6 249.15,176.57 249.48,176.24 249.81,176.58 250.14,176.67 250.47,176.94 250.8,176.35 251.13,176.08 251.46,176.03 251.79,175.83 252.12,176.28 252.45,175.97 252.78,176.85 253.11,175.52 253.44,175.7 253.77,175.8 254.1,175.24 254.43,177.16 254.76,175.29 255.09,176.07 255.42,176.07 255.75,177.15 256.08,175.49 256.41,176.77 256.74,176.06 257.07,176.24 257.4,176.01 257.73,176.63 258.06,175.83 258.39,176.24 258.72,176.51 259.05,177.29 259.38,175.29 259.71,176.95 260.04,176.91 260.37,176.18 260.7,176.46 261.03,176.12 261.36,177.12 261.69,176.55 262.02,176.25 262.35,176.19 262.68,176.19 263.01,176.2 263.34,175.85 263.67,177.26 264,175.48 264.33,174.36 264.66,175.93 264.99,176.15 265.32,176.43 265.65,176.18 265.98,176.16 266.31,176.4 266.64,176.74 266.97,176.08 267.3,176.01 267.63,177.14 267.96,176.6 268.29,175.75 268.62,177.27 268.95,176.71 269.28,175.93 269.61,175.51 269.94,176.17 270.27,175.68 270.6,175.48 270.93,175.31 271.26,175.66 271.59,176.5 271.92,175.83 272.25,175.2 272.58,176.13 272.91,175.94 273.24,176.27 273.57,176.45 273.9,175.75 274.23,175.61 274.56,175.58 274.89,174.97 275.22,175.71 275.55,176.08 275.88,175.44 276.21,175.02 276.54,174.81 276.87,174.35 277.2,174.05 277.53,173.92 277.86,173.28 278.19,172.78 278.52,171.22 278.85,170.56 279.18,168.22 279.51,164.71 279.84,160.09 280.17,155.12 280.5,149.34 280.83,143.03 281.16,138.38 281.49,136.47 281.5,136.71 281.82,138.05 282.15,142.84 282.48,148.51 282.81,154.73 283.14,159.95 283.47,164.22 283.8,167.2 284.13,169.32 284.46,171.08 284.79,172.53 285.12,172.99 285.45,172.87 285.78,173.58 286.11,174.09 286.44,173.68 286.77,173.51 287.1,173.54 287.43,174.15 287.76,174.1 288.09,173.35 288.42,173.87 288.75,173.5 289.08,173.28 289.41,174.22 289.74,174.12 290,173.31 290.07,173.59 290.4,173.81 290.73,173.24 291.06,173.37 291.39,173.74 291.72,172.51 292.05,173.31 292.38,173.54 292.71,173.32 293.04,172.18 293.37,172.58 293.7,171.66 294.03,171.63 294.36,170.65 294.69,168.68 295.02,165.55 295.35,161.28 295.68,155.57 296.01,147.53 296.34,138.79 296.67,129.83 297,122.78 297.3,120.97 297.33,120.61 297.66,124.33 297.99,131.1 298.32,139.86 298.65,147.87 298.98,152.62 299.31,154.09 299.64,152.8 299.97,148.46 300.3,142.41 300.63,134.19 300.96,124.5 301.29,113.38 301.62,100.47 301.95,86.36 302.28,70.65 302.61,53.83 302.94,35.79 303.1,26.44 303.27,34.45 303.6,48.44 303.93,62.53 304.26,74.83 304.59,87.19 304.92,98.12 305.25,109.03 305.58,118.48 305.91,127.41 306.24,135.61 306.57,142.7 306.9,149.14 307.23,154.69 307.56,160.28 307.89,164.15 308.22,167.43 308.55,169.86 308.88,172.19 309.21,170.38 309.54,169.18 309.87,165.06 310.2,159.13 310.53,150.42 310.86,140.82 311.19,131.27 311.52,124.09 311.8,121.87 311.85,121.46 312.18,125.57 312.51,133.99 312.84,143.8 313.17,153.23 313.5,161.31 313.83,166.74 314.16,170.16 314.49,172.9 314.82,173.08 315.15,174.37 315.48,174.61 315.81,174.82 316.14,175.29 316.47,175.32 316.8,175.48 317.13,175.59 317.46,176.51 317.79,175.58 318.12,176.16 318.45,176.09 318.78,175.64 319.11,176.18 319.44,175.46 319.77,176.39 320.1,175.56 320.43,175.62 320.76,176.05 321.09,176.39 321.42,176.49 321.75,176.51 322.08,175.97 322.41,175.52 322.74,176.22 323.07,176.21 323.4,175.58 323.73,176.46 324.06,176.2 324.39,175.59 324.72,176.2 325.05,175.41 325.38,175.51 325.71,176.17 326.04,175.28 326.37,175.95 326.7,175.35 327.03,176.3 327.36,175.71 327.69,176.07 328.02,175.27 328.35,175.72 328.68,176.43 329.01,176.28 329.34,175.1 329.67,176.3 330,176.45 330.33,175.82 330.66,176.61 330.99,175.47 331.32,175.77 331.65,176.39 331.98,176.56 332.31,176.55 332.64,175.33 332.97,174.78 333.3,175.75 333.63,174.95 333.96,175.44 334.29,174.89 334.62,175.93 334.95,175.9 335.28,175.71 335.61,175.34 335.94,175.22 336.27,174.94 336.6,175.13 336.93,174.97 337.26,174.91 337.59,174.3 337.92,175.18 338.25,174.27 338.58,174.42 338.91,174.08 339.24,172.5 339.57,171.29 339.9,171.78 340.23,169.83 340.56,167.85 340.89,164.45 341.22,159.37 341.55,151.57 341.88,141.44 342.21,128.52 342.54,114.23 342.87,100.24 343.2,91.77 343.4,90.08 343.53,90.37 343.86,98.05 344.19,111.13 344.52,125.69 344.85,138.88 345.18,150.01 345.51,157.87 345.84,163.22 346.17,166.89 346.5,169.65 346.83,170.52 347.16,172.09 347.49,172.91 347.82,173.17 348.15,173.69 348.48,173.37 348.81,173.54 349.14,173.36 349.47,173.34 349.8,172.78 350.13,172.98 350.46,172.28 350.79,171.15 351.12,170.43 351.45,168.45 351.78,165.7 352.11,163.37 352.44,161.52 352.6,161.24 352.77,161.11 353.1,162.47 353.43,165.14 353.76,167.18 354.09,168.44 354.42,168.35 354.75,167.09 355.08,163.99 355.41,160.13 355.74,155.16 356.07,150.53 356.4,148.47 356.5,148.78 356.73,149.07 357.06,153.06 357.39,157.64 357.72,162.47 358.05,166.63 358.38,169.79 358.71,171.3 359.04,173.1 359.37,174.15 359.7,174.89 360.03,174.46 360.36,175.74 360.69,176.25 361.02,176.69 361.35,174.97 361.68,175.55 362.01,174.69 362.34,175.74 362.67,176.03 363,175.27 363.33,174.97 363.66,175.85 363.99,176.23 364.32,175.6 364.65,175.8 364.98,174.72 365.31,175.49 365.64,176.05 365.97,176.15 366.3,176.9 366.63,175.66 366.96,174.93 367.29,176.18 367.62,175.86 367.95,176.26 368.28,176.55 368.61,176.54 368.94,176.97 369.27,176.99 369.6,175.5 369.93,176.08 370.26,177.2 370.59,176.17 370.92,176.71 371.25,176.29 371.58,176.04 371.91,177.01 372.24,176.89 372.57,176.23 372.9,176.71 373.23,175.68 373.56,175.82 373.89,176.66 374.22,176.36 374.55,175.76 374.88,176.43 375.21,176.47 375.54,176.96 375.87,176.87 376.2,176.24 376.53,176.04 376.86,176.19 377.19,176.16 377.52,177.01 377.85,177.2 378.18,177.11 378.51,176.61 378.84,176.22 379.17,176.73 379.5,176.18 379.83,176.39 380.16,175.47 380.49,175.95 380.82,176.96 381.15,175.87 381.48,175.47 381.81,176.08 382.14,177.08 382.47,177.12 382.8,176.22 383.13,176.02 383.46,176.17 383.79,175.77 384.12,176.19 384.45,176.08 384.78,175.47 385.11,175.82 385.44,176.02 385.77,175.74 386.1,175.56 386.43,176.53 386.76,177.16 387.09,176.14 387.42,175.9 387.75,176.31 388.08,175.98 388.41,175.63 388.74,176.63 389.07,175.53 389.4,175.47 389.73,175.45 390.06,175.27 390.39,175.49 390.72,175.83 391.05,176.18 391.38,175.66 391.71,174.98 392.04,173.8 392.37,173.55 392.7,172.09 393.03,170.9 393.36,169.43 393.69,166.48 394.02,163.53 394.35,160.63 394.68,158.65 395,157.92 395.01,157.72 395.34,158.64 395.67,161.1 396,163.43 396.33,166.44 396.66,168.46 396.99,171.81 397.32,173.06 397.65,174.04 397.98,174.69 398.31,175.09 398.64,175.39 398.97,174.66 399.3,175.59 399.63,175.98 399.96,175.1 400.29,176.15 400.62,176.28 400.95,175.24 401.28,175.65 401.61,175.82 401.94,175.76 402.27,176.23 402.6,175.49 402.93,175.92 403.26,176.22 403.59,176.53 403.92,176.25 404.25,176.07 404.58,176.52 404.91,175.26 405.24,176.53 405.57,176.11 405.9,175.58 406.23,175.92 406.56,175.27 406.89,175.07 407.22,175.9 407.55,175.8 407.88,176.54 408.21,175.85 408.54,175.54 408.87,175.66 409.2,177.02 409.53,176.38 409.86,175.96 410.19,175.71 410.52,175.61 410.85,176.06 411.18,176.43 411.51,176.84 411.84,176.9 412.17,176.46 412.5,175.93 412.83,175.74 413.16,174.99 413.49,175.51 413.82,176.31 414.15,176.04 414.48,176.35 414.81,175.53 415.14,176.52 415.47,176.36 415.8,176.19 416.13,176.34 416.46,175.03 416.79,175.66 417.12,175.57 417.45,176.9 417.78,176.08 418.11,175.78 418.44,176.39 418.77,175.51 419.1,176.59 419.43,175.66 419.76,175.81 420.09,175.37 420.42,176.12 420.75,174.7 421.08,175.87 421.41,175.23 421.74,175.5 422.07,174.87 422.4,175.37 422.73,175.32 423.06,175.38 423.39,175.09 423.72,174.98 424.05,174.85 424.38,173.71 424.71,172.54 425.04,171.46 425.37,171.09 425.7,168.9 426.03,166.91 426.36,163.83 426.69,160.16 427.02,156.73 427.35,153.15 427.68,149.37 428.01,146.83 428.3,146.1 428.34,146.46 428.67,147.35 429,149.99 429.33,153.76 429.66,157.51 429.99,161.23 430.32,164.41 430.65,167.15 430.98,169.53 431.31,171.26 431.64,172.71 431.97,173.07 432.3,174.03 432.63,174.58 432.96,174.71 433.29,175.15 433.62,175.57 433.95,175.34 434.28,175.33 434.61,174.88 434.94,175.52 435.27,175.46 435.6,175.39 435.93,175.16 436.26,175.86 436.59,176.98 436.92,176.11 437.25,175.82 437.58,175.97 437.91,175.49 438.24,175.77 438.57,175.44 438.9,175.4 439.23,175.83 439.56,175.88 439.89,175.71 440.22,175.33 440.55,175.79 440.88,175.16 441.21,175.98 441.54,175.51 441.87,175.58 442.2,175.94 442.53,175.84 442.86,174.84 443.19,175.14 443.52,175.42 443.85,174.64 444.18,173.75 444.51,174.64 444.84,174.62 445.17,174.62 445.5,174.12 445.83,173.58 446.16,172.77 446.49,171.97 446.82,169.49 447.15,166.18 447.48,161.87 447.81,157.25 448.14,152.04 448.47,148.36 448.7,146.6 448.8,146.91 449.13,148.31 449.46,150.95 449.79,153.57 450.12,154.08 450.45,152.4 450.78,148.68 451.11,144.19 451.44,139.18 451.77,136.32 451.9,135.87 452.1,137.19 452.43,141.4 452.76,147.48 453.09,154.08 453.42,159.67 453.75,164.8 454.08,167.98 454.41,170.9 454.74,171.94 455.07,172.76 455.4,173.87 455.73,174.3 456.06,173.94 456.39,174.6 456.72,175.2 457.05,174.99 457.38,174.52 457.71,175.09 458.04,174.9 458.37,175.13 458.7,175.53 459.03,175.59 459.36,175.57 459.69,174.88 460.02,175.81 460.35,175.71 460.68,175.62 461.01,175.9 461.34,176.85 461.67,175.41 462,175.04 462.33,176.18 462.66,175.59 462.99,176.55 463.32,175.56 463.65,175.67 463.98,176.34 464.31,176.48 464.64,176.26 464.97,176.23 465.3,175.93 465.63,175.72 465.96,175.79 466.29,176.52 466.62,176.33 466.95,175.94 467.28,176 467.61,176.23 467.94,176.4 468.27,175.72 468.6,175.59 468.93,175.7 469.26,176.76 469.59,175.63 469.92,175.83 470.25,174.28 470.58,174.95 470.91,173.49 471.24,172.75 471.57,171.77 471.9,170.21 472.23,167.72 472.56,164.21 472.89,159.86 473.22,155.05 473.55,151.47 473.88,148.75 474,148.56 474.21,149.42 474.54,152.25 474.87,156.56 475.2,161.15 475.53,165.6 475.86,168.14 476.19,170.42 476.52,172.6 476.85,172.67 477.18,173.81 477.51,175.26 477.84,174.91 478.17,175.33 478.5,175.78 478.83,175.03 479.16,175.71 479.49,175.44 479.82,175.22 480.15,175.65 480.48,175.86 480.81,175.76 481.14,175.65 481.47,176.46 481.8,176.71 482.13,176.47 482.46,176.13 482.79,175.63 483.12,175.68 483.45,175.57 483.78,176.21 484.11,176.67 484.44,176.75 484.77,176.31 485.1,176.07 485.43,176.32 485.76,176.34 486.09,176.59 486.42,177.06 486.75,176.07 487.08,177.31 487.41,175.42 487.74,175.3 488.07,175.42 488.4,175.68 488.73,176.12 489.06,177.32 489.39,176.14 489.72,176.86 490.05,176.24 490.38,176.41 490.71,175.85 491.04,177.4 491.37,176.49 491.7,176.07 492.03,177.44 492.36,176.61 492.69,176.6 493.02,176.33 493.35,175.95 493.68,175.59 494.01,176.16 494.34,177.13 494.67,176.69 495,176.33 495.33,176.88 495.66,175.98 495.99,176.99 496.32,176.45 496.65,175.96 496.98,176.63 497.31,176.65 497.64,176.23 497.97,176.44 498.3,176.84 498.63,177.11 498.96,176.03 499.29,174.98 499.62,177.13 499.95,176.31 500.28,176.1 500.61,176.48 500.94,176.1 501.27,176.76 501.6,175.71 501.93,176.05 502.26,175.56 502.59,176.84 502.92,176.13 503.25,176.65 503.58,176.83 503.91,175.53 504.24,175.75 504.57,176.16 504.9,175.76 505.23,175.41 505.56,175.5 505.89,174.95 506.22,173.14 506.55,171.59 506.88,169.69 507.21,166.66 507.54,163.91 507.87,161.95 508,162.32 508.2,162.39 508.53,164.46 508.86,167.22 509.19,169.96 509.52,172.18 509.85,173.24 510.18,174.74 510.51,175.81 510.84,175.82 511.17,176.14 511.5,176.17 511.83,176.02 512.16,176.94 512.49,175.89 512.82,176.3 513.15,176.71 513.48,176.43 513.81,175.75 514.14,175.65 514.47,176.96 514.8,175.93 515.13,176.26 515.46,176.59 515.79,176.42 516.12,175.48 516.45,175.29 516.78,176.15 517.11,175.96 517.44,176.19 517.77,176.4 518.1,176.47 518.43,175.75 518.76,175.47 519.09,176.73 519.42,176.15 519.75,175.79 520.08,175.33 520.41,176.52 520.74,175.81 521.07,175.81 521.4,176.64 521.73,176.61 522.06,176.74 522.39,175.85 522.72,174.92 523.05,175.72 523.38,176.18 523.71,176.07 524.04,176.83 524.37,176.68 524.7,175.96 525.03,176.65 525.36,176.41 525.69,176.2 526.02,176.97 526.35,175.7 526.68,176.85 527.01,177.05 527.34,175.52 527.67,176.22 528,176.34 528.33,175.88 528.66,176.08 528.99,176 529.32,176.42 529.65,176.18 529.98,175.35 530.31,176.89 530.64,176.97 530.97,176.12 531.3,176.85 531.63,177.53 531.96,175.85 532.29,176.17 532.62,176.16 532.95,176.7 533.28,176.35 533.61,175.75 533.94,176.99 534.27,176.38 534.6,176.82 534.93,177.66 535.26,176.28 535.59,176.23 535.92,176.89 536.25,176.48 536.58,176.73 536.91,176.51 537.24,177.88 537.57,177 537.9,176.72 538.23,176.57 538.56,176.68 538.89,175.69 539.22,176.22 539.55,176.81 539.88,175.92 540.21,176.41 540.54,176.42 540.87,176.21 541.2,177.68 541.53,177.01"/>
<ellipse cx="242.3" cy="164.7" rx="2.05" ry="2.35" fill="#111"/>
<polygon points="281.5,130.7 282.35,132.43 284.26,132.7 282.88,134.05 283.2,135.95 281.5,135.05 279.8,135.95 280.12,134.05 278.74,132.7 280.65,132.43" fill="#111"/>
<polygon points="297.2,114.9 298.05,116.63 299.96,116.9 298.58,118.25 298.9,120.15 297.2,119.25 295.5,120.15 295.82,118.25 294.44,116.9 296.35,116.63" fill="#111"/>
<polygon points="303.1,22.6 303.95,24.33 305.86,24.6 304.48,25.95 304.8,27.85 303.1,26.95 301.4,27.85 301.72,25.95 300.34,24.6 302.25,24.33" fill="#111"/>
<ellipse cx="311.6" cy="117.6" rx="2.05" ry="2.35" fill="#111"/>
<ellipse cx="343.4" cy="88.5" rx="2.05" ry="2.35" fill="#111"/>
<ellipse cx="352.5" cy="156.8" rx="2.05" ry="2.35" fill="#111"/>
<polygon points="356.5,143.9 357.35,145.63 359.26,145.9 357.88,147.25 358.2,149.15 356.5,148.25 354.8,149.15 355.12,147.25 353.74,145.9 355.65,145.63" fill="#111"/>
<rect x="354.6" y="138.85" width="3.8" height="3.9" fill="#111"/>
<polygon points="395,150.6 395.85,152.33 397.76,152.6 396.38,153.95 396.7,155.85 395,154.95 393.3,155.85 393.62,153.95 392.24,152.6 394.15,152.33" fill="#111"/>
<polygon points="428.3,140 429.15,141.73 431.06,142 429.68,143.35 430,145.25 428.3,144.35 426.6,145.25 426.92,143.35 425.54,142 427.45,141.73" fill="#111"/>
<polygon points="448.5,140.6 449.35,142.33 451.26,142.6 449.88,143.95 450.2,145.85 448.5,144.95 446.8,145.85 447.12,143.95 445.74,142.6 447.65,142.33" fill="#111"/>
<polygon points="451.9,132.9 452.75,134.63 454.66,134.9 453.28,136.25 453.6,138.15 451.9,137.25 450.2,138.15 450.52,136.25 449.14,134.9 451.05,134.63" fill="#111"/>
<ellipse cx="451.9" cy="130.6" rx="2.05" ry="2.35" fill="#111"/>
<polygon points="474,146 474.85,147.73 476.76,148 475.38,149.35 475.7,151.25 474,150.35 472.3,151.25 472.62,149.35 471.24,148 473.15,147.73" fill="#111"/>
<ellipse cx="474" cy="143.5" rx="2.05" ry="2.35" fill="#111"/>
<ellipse cx="508" cy="160.8" rx="2.05" ry="2.35" fill="#111"/>
<text transform="translate(244.2,161) rotate(-90)" font-size="5.6" fill="#5b5bab" stroke="#5b5bab" stroke-width="0.12" textLength="12" lengthAdjust="spacingAndGlyphs">(111)</text>
<text transform="translate(283.4,130) rotate(-90)" font-size="5.6" fill="#ec4a3c" stroke="#ec4a3c" stroke-width="0.12" textLength="14" lengthAdjust="spacingAndGlyphs">(100)</text>
<text transform="translate(299.1,114) rotate(-90)" font-size="5.6" fill="#ec4a3c" stroke="#ec4a3c" stroke-width="0.12" textLength="12.3" lengthAdjust="spacingAndGlyphs">(002)</text>
<text transform="translate(311.9,33) rotate(-90)" font-size="5.6" fill="#ec4a3c" stroke="#ec4a3c" stroke-width="0.12" textLength="12" lengthAdjust="spacingAndGlyphs">(101)</text>
<text transform="translate(313.5,115) rotate(-90)" font-size="5.6" fill="#5b5bab" stroke="#5b5bab" stroke-width="0.12" textLength="12" lengthAdjust="spacingAndGlyphs">(220)</text>
<text transform="translate(345.3,85.5) rotate(-90)" font-size="5.6" fill="#5b5bab" stroke="#5b5bab" stroke-width="0.12" textLength="13.5" lengthAdjust="spacingAndGlyphs">(311)</text>
<text transform="translate(354.4,152.8) rotate(-90)" font-size="5.6" fill="#5b5bab" stroke="#5b5bab" stroke-width="0.12" textLength="12" lengthAdjust="spacingAndGlyphs">(222)</text>
<text transform="translate(358.4,137.8) rotate(-90)" font-size="5.6" fill="#ec4a3c" stroke="#ec4a3c" stroke-width="0.12" textLength="11.9" lengthAdjust="spacingAndGlyphs">(102)</text>
<text transform="translate(358.4,123.9) rotate(-90)" font-size="5.6" fill="#2a2a2a" stroke="#2a2a2a" stroke-width="0.12" textLength="10.9" lengthAdjust="spacingAndGlyphs">(110)</text>
<text transform="translate(396.9,149.9) rotate(-90)" font-size="5.6" fill="#ec4a3c" stroke="#ec4a3c" stroke-width="0.12" textLength="13" lengthAdjust="spacingAndGlyphs">(110)</text>
<text transform="translate(430.2,138.9) rotate(-90)" font-size="5.6" fill="#ec4a3c" stroke="#ec4a3c" stroke-width="0.12" textLength="12" lengthAdjust="spacingAndGlyphs">(103)</text>
<text transform="translate(450.1,140.6) rotate(-90)" font-size="5.6" fill="#ec4a3c" stroke="#ec4a3c" stroke-width="0.12" textLength="11.3" lengthAdjust="spacingAndGlyphs">(112)</text>
<text transform="translate(453.8,127) rotate(-90)" font-size="5.6" fill="#ec4a3c" stroke="#ec4a3c" stroke-width="0.12" textLength="12.7" lengthAdjust="spacingAndGlyphs">(201)</text>
<text transform="translate(453.8,112.5) rotate(-90)" font-size="5.6" fill="#5b5bab" stroke="#5b5bab" stroke-width="0.12" textLength="12.4" lengthAdjust="spacingAndGlyphs">(422)</text>
<text transform="translate(475.9,141.7) rotate(-90)" font-size="5.6" fill="#ec4a3c" stroke="#ec4a3c" stroke-width="0.12" textLength="12.4" lengthAdjust="spacingAndGlyphs">(202)</text>
<text transform="translate(475.9,126) rotate(-90)" font-size="5.6" fill="#5b5bab" stroke="#5b5bab" stroke-width="0.12" textLength="13.5" lengthAdjust="spacingAndGlyphs">(511)</text>
<text transform="translate(509.9,156.3) rotate(-90)" font-size="5.6" fill="#5b5bab" stroke="#5b5bab" stroke-width="0.12" textLength="12.4" lengthAdjust="spacingAndGlyphs">(440)</text>
<text x="352.3" y="197.7" font-size="11.2" fill="#333">Two-theta(deg)</text>
<text transform="translate(231.2,141) rotate(-90)" font-size="11.4" fill="#333">Intensity(a.u.)</text>
<text x="217.8" y="19.5" font-size="18" fill="#1a1a1a" stroke="#1a1a1a" stroke-width="0.12">(b)</text>
<rect x="234.8" y="214.6" width="308.6" height="158.1" fill="#fefdfb" stroke="#8a8a8a" stroke-width="1"/>
<line x1="234.8" y1="372.7" x2="543.4" y2="372.7" stroke="#3a3a3a" stroke-width="1"/>
<line x1="235" y1="372.7" x2="235" y2="375.7" stroke="#3a3a3a" stroke-width="0.8"/>
<text x="232" y="383.8" font-size="7.2" fill="#666" textLength="6" lengthAdjust="spacingAndGlyphs">20</text>
<line x1="260.68" y1="372.7" x2="260.68" y2="374.7" stroke="#3a3a3a" stroke-width="0.8"/>
<line x1="286.35" y1="372.7" x2="286.35" y2="375.7" stroke="#3a3a3a" stroke-width="0.8"/>
<text x="283.35" y="383.8" font-size="7.2" fill="#666" textLength="6" lengthAdjust="spacingAndGlyphs">30</text>
<line x1="312.02" y1="372.7" x2="312.02" y2="374.7" stroke="#3a3a3a" stroke-width="0.8"/>
<line x1="337.7" y1="372.7" x2="337.7" y2="375.7" stroke="#3a3a3a" stroke-width="0.8"/>
<text x="334.7" y="383.8" font-size="7.2" fill="#666" textLength="6" lengthAdjust="spacingAndGlyphs">40</text>
<line x1="363.38" y1="372.7" x2="363.38" y2="374.7" stroke="#3a3a3a" stroke-width="0.8"/>
<line x1="389.05" y1="372.7" x2="389.05" y2="375.7" stroke="#3a3a3a" stroke-width="0.8"/>
<text x="386.05" y="383.8" font-size="7.2" fill="#666" textLength="6" lengthAdjust="spacingAndGlyphs">50</text>
<line x1="414.73" y1="372.7" x2="414.73" y2="374.7" stroke="#3a3a3a" stroke-width="0.8"/>
<line x1="440.4" y1="372.7" x2="440.4" y2="375.7" stroke="#3a3a3a" stroke-width="0.8"/>
<text x="437.4" y="383.8" font-size="7.2" fill="#666" textLength="6" lengthAdjust="spacingAndGlyphs">60</text>
<line x1="466.08" y1="372.7" x2="466.08" y2="374.7" stroke="#3a3a3a" stroke-width="0.8"/>
<line x1="491.75" y1="372.7" x2="491.75" y2="375.7" stroke="#3a3a3a" stroke-width="0.8"/>
<text x="488.75" y="383.8" font-size="7.2" fill="#666" textLength="6" lengthAdjust="spacingAndGlyphs">70</text>
<line x1="517.42" y1="372.7" x2="517.42" y2="374.7" stroke="#3a3a3a" stroke-width="0.8"/>
<line x1="543.1" y1="372.7" x2="543.1" y2="375.7" stroke="#3a3a3a" stroke-width="0.8"/>
<text x="540.1" y="383.8" font-size="7.2" fill="#666" textLength="6" lengthAdjust="spacingAndGlyphs">80</text>
<polyline fill="none" stroke="#1c1c1c" stroke-width="0.9" stroke-linejoin="round" points="235.4,367.48 235.73,368.35 236.06,367.6 236.39,367.38 236.72,366.61 237.05,367.35 237.38,369.06 237.71,368.49 238.04,369.13 238.37,368.29 238.7,368.33 239.03,368.09 239.36,365.83 239.69,368.52 240.02,368.5 240.35,368.49 240.68,365.86 241.01,365.4 241.34,366.36 241.67,367.01 242,368.03 242.33,367.77 242.66,368.4 242.99,367.1 243.32,368.05 243.65,368.29 243.98,367.06 244.31,369.73 244.64,368.74 244.97,369.36 245.3,367.27 245.63,366.82 245.96,367.22 246.29,367.57 246.62,368.5 246.95,368.18 247.28,367.3 247.61,366.56 247.94,366.97 248.27,369.12 248.6,367.01 248.93,367.95 249.26,368.31 249.59,366.07 249.92,367.57 250.25,369.31 250.58,365.58 250.91,367.06 251.24,367.53 251.57,366.75 251.9,368.21 252.23,367.76 252.56,366.01 252.89,368.49 253.22,368.68 253.55,369.03 253.88,369.68 254.21,368.48 254.54,368.01 254.87,366.23 255.2,368.26 255.53,367.09 255.86,367.11 256.19,366.13 256.52,366.34 256.85,366.89 257.18,369.15 257.51,365.5 257.84,365.64 258.17,367.69 258.5,369.44 258.83,368.66 259.16,365.56 259.49,364.34 259.82,367.6 260.15,366.77 260.48,366.17 260.81,368.57 261.14,369.06 261.47,367.97 261.8,367.87 262.13,368.03 262.46,369.37 262.79,368.28 263.12,367.71 263.45,366.83 263.78,361.85 264.11,358.74 264.44,350.34 264.77,342.02 265,338.6 265.1,339.49 265.43,346.59 265.76,354.36 266.09,361.37 266.42,366.5 266.75,365.28 267.08,368.86 267.41,368.24 267.74,367.37 268.07,367.86 268.4,368.37 268.73,367.84 269.06,369.01 269.39,367.03 269.72,367.05 270.05,368.81 270.38,367.86 270.71,366.64 271.04,368.65 271.37,369.58 271.7,367.43 272.03,365.99 272.36,367.27 272.69,367.45 273.02,367.3 273.35,369.32 273.68,366.7 274.01,369.06 274.34,366.37 274.67,366.55 275,368.27 275.33,369.13 275.66,368.93 275.99,368.28 276.32,367.93 276.65,367.89 276.98,368.38 277.31,367.55 277.64,367.96 277.97,368.37 278.3,367.74 278.63,368.55 278.96,368.42 279.29,370.12 279.62,368.33 279.95,367.14 280.28,367 280.61,367.38 280.94,368.53 281.27,367.14 281.6,367.74 281.93,369.5 282.26,364.37 282.59,365.15 282.92,366.51 283.25,365.88 283.58,363.13 283.91,357.23 284.24,349.21 284.57,339.39 284.9,332.7 285,333.63 285.23,334.87 285.56,342.45 285.89,351.93 286.22,358.51 286.55,360.96 286.88,358.11 287.21,354.02 287.54,348.41 287.87,342.94 288,342.89 288.2,344.6 288.53,350.17 288.86,357.26 289.19,360.03 289.52,364.18 289.85,365.78 290.18,367.53 290.51,368.5 290.84,364.21 291.17,368.14 291.5,365.74 291.83,367.96 292.16,365.71 292.49,367.39 292.82,368.88 293.15,367.5 293.48,367.7 293.81,368.46 294.14,367.78 294.47,367.39 294.8,369.26 295.13,368.94 295.46,367.25 295.79,370.6 296.12,366.37 296.45,368.13 296.78,366.85 297.11,366.91 297.44,367.03 297.77,364.88 298.1,361.17 298.43,351.72 298.76,340.5 299.09,331.84 299.3,329.06 299.42,329.67 299.75,337.46 300.08,350.03 300.41,358.97 300.74,365.52 301.07,364.92 301.4,366.4 301.73,365.38 302.06,367.46 302.39,368.36 302.72,364.34 303.05,364.39 303.38,359.95 303.71,357.13 303.8,356.05 304.04,358.41 304.37,360.98 304.7,363.2 305.03,365.98 305.36,366.34 305.69,366.57 306.02,361.84 306.35,362.42 306.5,362.97 306.68,363.37 307.01,363.18 307.34,364.23 307.67,367.57 308,367.43 308.33,367.57 308.66,369.2 308.99,367.45 309.32,364.76 309.65,366.67 309.98,365.2 310.31,368.19 310.64,368.04 310.97,366.91 311.3,367.46 311.63,368.55 311.96,367.81 312.29,369.19 312.62,367.73 312.95,368.83 313.28,369.52 313.61,369.76 313.94,367.04 314.27,368.48 314.6,365.38 314.93,365.84 315.26,364.83 315.59,368.29 315.92,366.01 316.25,367.08 316.58,366.97 316.91,367.08 317.24,366.33 317.57,367.08 317.9,368.86 318.23,366.61 318.56,365.81 318.89,363.62 319.22,356.25 319.55,345.33 319.88,332.52 320.21,322.93 320.4,319.78 320.54,321.15 320.87,331.21 321.2,344.16 321.53,354.42 321.86,361.25 322.19,361.88 322.52,358.27 322.85,352.25 323.18,346.33 323.5,344.38 323.51,343.79 323.84,346.84 324.17,353.55 324.5,358.13 324.83,363.54 325.16,364.29 325.49,366.66 325.82,363.84 326.15,366.6 326.48,365.54 326.81,363.01 327.14,364.29 327.47,361.19 327.8,358.35 328,358.42 328.13,359.21 328.46,360.3 328.79,363.97 329.12,365.89 329.45,366.72 329.78,366.55 330.11,367.59 330.44,366.64 330.77,365.7 331.1,361.28 331.43,360.52 331.76,349.51 332.09,324.16 332.42,284.49 332.75,246.05 333,232.29 333.08,234.44 333.41,263.86 333.74,305.01 334.07,338.53 334.4,356.46 334.73,362.5 335.06,365.29 335.39,366.66 335.72,365.05 336.05,366.04 336.38,366.84 336.71,367.74 337.04,366.96 337.37,366.74 337.7,365.79 338.03,366.49 338.36,368.14 338.69,367.48 339.02,366.26 339.35,366.12 339.68,370.33 340.01,369.14 340.34,368.37 340.67,364.39 341,367.66 341.33,367.98 341.66,369.48 341.99,368.19 342.32,367.4 342.65,367.98 342.98,365.1 343.31,368.23 343.64,367.84 343.97,366.53 344.3,368.74 344.63,369.63 344.96,365.88 345.29,366.17 345.62,367.32 345.95,367.31 346.28,366.55 346.61,365.67 346.94,369.16 347.27,368.28 347.6,365.33 347.93,364.53 348.26,367.84 348.59,367.17 348.92,367.63 349.25,365.75 349.58,361.73 349.91,357.33 350.24,341.94 350.57,312.73 350.9,269.91 351.23,233.42 351.4,226.69 351.56,232.03 351.89,267.45 352.22,308.68 352.55,333.87 352.88,337.76 353.21,325.82 353.54,307.93 353.87,294.32 354,292.62 354.2,296.18 354.53,313.08 354.86,333.35 355.19,349.31 355.52,358.38 355.85,362.62 356.18,363.34 356.51,360.83 356.84,358.48 357.17,351.02 357.5,340.15 357.83,331.29 358,330.21 358.16,330.84 358.49,338.86 358.82,350.59 359.15,358.49 359.48,364.09 359.81,363.85 360.14,361.69 360.47,361.75 360.8,361.93 361.13,356.23 361.46,353.36 361.5,353.53 361.79,355.75 362.12,359.79 362.45,363.49 362.78,367.14 363.11,367.23 363.44,366.19 363.77,365.76 364.1,364.33 364.43,357.37 364.76,349.72 365.09,342.05 365.3,340.86 365.42,341.84 365.75,347.02 366.08,355.47 366.41,362.14 366.74,366 367.07,366.24 367.4,369.93 367.73,369.06 368.06,367.27 368.39,367.43 368.72,370.51 369.05,367.48 369.38,368.52 369.71,368.82 370.04,367.72 370.37,366.16 370.7,367.57 371.03,368 371.36,369 371.69,368.74 372.02,367.8 372.35,368.66 372.68,368.41 373.01,367.98 373.34,367.74 373.67,367.34 374,368.4 374.33,366.46 374.66,366.68 374.99,367.46 375.32,365.81 375.65,366.77 375.98,364.96 376.31,366.07 376.64,367.14 376.97,366.03 377.3,363.41 377.63,361.78 377.7,360.26 377.96,364.56 378.29,365.37 378.62,367.57 378.95,366.17 379.28,366.99 379.61,365.15 379.94,367.87 380.27,367.99 380.6,363.4 380.93,362.81 381.26,361.44 381.5,357.99 381.59,357.62 381.92,360.32 382.25,363.53 382.58,364.45 382.91,366.81 383.24,367.49 383.57,367.83 383.9,367.17 384.23,366.24 384.56,363.11 384.89,358.65 385,358.68 385.22,359.15 385.55,360.92 385.88,364.75 386.21,366.54 386.54,367.7 386.87,365.23 387.2,364.61 387.53,364.61 387.86,362.72 388.19,361.58 388.2,361.86 388.52,362 388.85,365.56 389.18,366.95 389.51,367.19 389.84,366.69 390.17,367.27 390.5,364.32 390.83,365.99 391.16,367.47 391.49,365.85 391.82,367.66 392.15,367.88 392.48,366.09 392.81,367.17 393.14,367.26 393.47,368.21 393.8,368.54 394.13,367.81 394.46,366.72 394.79,367.41 395.12,367.61 395.45,368.6 395.78,368.22 396.11,366.95 396.44,366 396.77,367.03 397.1,366.75 397.43,366.26 397.76,367.38 398.09,367.1 398.42,367.78 398.75,368.38 399.08,367.35 399.41,370.48 399.74,367.77 400.07,369.07 400.4,368.09 400.73,369.14 401.06,365.1 401.39,366.45 401.72,367.85 402.05,368.48 402.38,370.66 402.71,368.56 403.04,369.4 403.37,368.91 403.7,369.05 404.03,368.54 404.36,367.66 404.69,368.33 405.02,366.52 405.35,368.96 405.68,366.68 406.01,367.85 406.34,370.27 406.67,367.81 407,367.73 407.33,369.08 407.66,367.9 407.99,366.71 408.32,367.79 408.65,368.32 408.98,368.52 409.31,366.73 409.64,369.43 409.97,369.6 410.3,367.32 410.63,366.29 410.96,362.87 411.29,359.2 411.62,352.39 411.95,349.36 412,348.81 412.28,350.72 412.61,357.01 412.94,363.76 413.27,365.5 413.6,365.85 413.93,367.93 414.26,367.23 414.59,367.38 414.92,368.23 415.25,366.4 415.58,361.68 415.91,360.21 416.2,358.16 416.24,358.43 416.57,359.52 416.9,362.64 417.23,363.06 417.56,368.06 417.89,367.96 418.22,363.89 418.55,362.14 418.7,361.76 418.88,365.29 419.21,364.93 419.54,366.36 419.87,366.81 420.2,367.3 420.53,366.27 420.86,367.47 421.19,365.92 421.52,367.33 421.85,368.01 422.18,368.31 422.51,367.52 422.84,366.6 423.17,367.74 423.5,367.15 423.83,369.52 424.16,368.92 424.49,367.77 424.82,367.17 425.15,366.81 425.48,366.47 425.81,367.12 426.14,368 426.47,368.39 426.8,368.52 427.13,370.37 427.46,367.28 427.79,367.68 428.12,371.08 428.45,365.99 428.78,366.84 429.11,367.79 429.44,367.92 429.77,368.23 430.1,367.5 430.43,368.11 430.76,367.82 431.09,368.63 431.42,365.54 431.75,366.27 432.08,367.42 432.41,366.33 432.74,366.11 433.07,368.02 433.4,366.64 433.73,367.57 434.06,366.7 434.39,363.52 434.72,358.95 435.05,354.32 435.3,352.32 435.38,353.03 435.71,356.45 436.04,360.36 436.37,364.33 436.7,367.3 437.03,366.25 437.36,368.05 437.69,369.85 438.02,367.25 438.35,367.73 438.68,367.47 439.01,369.47 439.34,368.32 439.67,368.85 440,367.03 440.33,367.57 440.66,367.66 440.99,365.56 441.32,369.11 441.65,368.99 441.98,365.79 442.31,368.3 442.64,367.63 442.97,368.22 443.3,368.21 443.63,365.96 443.96,367.17 444.29,369.39 444.62,367.23 444.95,366.36 445.28,365.82 445.61,365.89 445.94,367.75 446.27,369.63 446.6,368.36 446.93,367.89 447.26,370.06 447.59,366.68 447.92,364.97 448.25,364.24 448.58,361.74 448.91,358.67 449,358.37 449.24,359.72 449.57,362.4 449.9,362.96 450.23,365.31 450.56,364.97 450.89,364.42 451.22,360.17 451.55,354.86 451.88,349.97 452.1,349.48 452.21,350.04 452.54,353.05 452.87,359.02 453.2,362.31 453.53,365.56 453.86,367.57 454.19,369.01 454.52,367.02 454.85,367.12 455.18,367.45 455.51,365.44 455.84,366.9 456.17,366.19 456.5,367.15 456.83,364.97 457.16,362.05 457.49,359.91 457.82,351.67 458.15,339.46 458.48,331.21 458.6,329.93 458.81,332.15 459.14,343.2 459.47,353.68 459.8,360.77 460.13,365.12 460.46,367.54 460.79,366.93 461.12,367.53 461.45,366.54 461.78,367.61 462.11,369.45 462.44,366.94 462.77,370.25 463.1,367.16 463.43,367.5 463.76,367.75 464.09,368.81 464.42,366.26 464.75,364.85 465.08,367.88 465.41,368.56 465.74,368.44 466.07,370.82 466.4,368.26 466.73,367.91 467.06,368.64 467.39,368.04 467.72,369.46 468.05,366.13 468.38,366.59 468.71,362.85 469.04,367.19 469.37,365.92 469.7,365.89 470.03,363.82 470.36,353.58 470.69,341.82 471.02,330.29 471.3,326.06 471.35,326.27 471.68,333.81 472.01,345.71 472.34,356.24 472.67,362.36 473,366.5 473.33,367.27 473.66,366.86 473.99,367.89 474.32,367.15 474.65,365.89 474.98,368.87 475.31,368.16 475.64,366.36 475.97,368.53 476.3,367.96 476.63,365.55 476.96,368.93 477.29,367.74 477.62,367.72 477.95,365.41 478.28,361.36 478.61,355 478.94,350.26 479.2,348.07 479.27,348.02 479.6,352.32 479.93,358.47 480.26,364.14 480.59,365.58 480.92,366.83 481.25,364.7 481.58,366.52 481.91,368.17 482.24,369.25 482.57,367.4 482.9,367.43 483.23,369.5 483.56,367.54 483.89,368.53 484.22,369.82 484.55,368.05 484.88,369.22 485.21,367.08 485.54,367.86 485.87,367.64 486.2,367.84 486.53,369.09 486.86,370.8 487.19,367.39 487.52,366.99 487.85,368.22 488.18,366.54 488.51,368.15 488.84,368.48 489.17,367.52 489.5,368.34 489.83,365.97 490.16,368.38 490.49,365.98 490.82,366.64 491.15,366.9 491.48,367.13 491.81,368.68 492.14,367.97 492.47,367.29 492.8,368.32 493.13,369.71 493.46,368.03 493.79,368.21 494.12,369.28 494.45,368.27 494.78,366.25 495.11,370.47 495.44,370.75 495.77,365.75 496.1,367.32 496.43,368.09 496.76,368.84 497.09,368.55 497.42,367.3 497.75,365.94 498.08,366.5 498.41,366.33 498.74,361.7 499.07,359.21 499.3,359.76 499.4,357.74 499.73,361.09 500.06,363.48 500.39,366.24 500.72,365.67 501.05,364.8 501.38,363.28 501.71,359.55 502.04,353.28 502.37,348.94 502.5,348.85 502.7,350.27 503.03,355.87 503.36,360.21 503.69,364.09 504.02,363.42 504.35,368.97 504.68,366.78 505.01,367.35 505.34,368.15 505.67,366.05 506,367.94 506.33,367.66 506.66,365.47 506.99,367.7 507.32,369.13 507.65,365.68 507.98,368.38 508.31,368.07 508.64,368.35 508.97,368.35 509.3,369.39 509.63,367.72 509.96,368.79 510.29,367.41 510.62,368.57 510.95,366.9 511.28,367.49 511.61,369.79 511.94,368.6 512.27,367.69 512.6,366.38 512.93,366.6 513.26,367.82 513.59,368.9 513.92,368.44 514.25,368.5 514.58,367.82 514.91,369.4 515.24,367.54 515.57,367.07 515.9,368.73 516.23,367.99 516.56,367.47 516.89,367.03 517.22,367.35 517.55,368.45 517.88,368.29 518.21,366.39 518.54,368.07 518.87,368.03 519.2,366.61 519.53,368.52 519.86,367.54 520.19,367.33 520.52,368.65 520.85,369.48 521.18,367.19 521.51,368.2 521.84,366.78 522.17,370.39 522.5,367.56 522.83,369.16 523.16,367.19 523.49,368.64 523.82,370.55 524.15,365.12 524.48,366.83 524.81,368.21 525.14,367.7 525.47,366.93 525.8,370.19 526.13,368.19 526.46,365.81 526.79,368.45 527.12,365.74 527.45,368.77 527.78,367.13 528.11,367.71 528.44,369.03 528.77,367.53 529.1,364.76 529.43,362.89 529.76,365.21 529.9,365.05 530.09,363.39 530.42,366.19 530.75,367.13 531.08,367.88 531.41,364.45 531.74,365.66 532.07,365.79 532.4,363.22 532.73,359.94 533,357.39 533.06,358.46 533.39,360.88 533.72,366.33 534.05,364.77 534.38,366.13 534.71,367 535.04,368.11 535.37,366.34 535.7,366.92 536.03,362.19 536.36,358.44 536.69,353.01 537,351.04 537.02,350.68 537.35,352.89 537.68,359.2 538.01,363.52 538.34,364.37 538.67,364.7 539,362.69 539.33,355.15 539.66,348.43 539.99,345.24 540,345.29 540.32,348.13 540.65,354.26 540.98,362.61 541.31,365.65 541.64,366.71 541.97,366.82 542.3,367.6 542.63,366.96"/>
<polygon points="265,334.7 265.85,336.43 267.76,336.7 266.38,338.05 266.7,339.95 265,339.05 263.3,339.95 263.62,338.05 262.24,336.7 264.15,336.43" fill="#111"/>
<ellipse cx="285" cy="325.5" rx="2.05" ry="2.35" fill="#111"/>
<polygon points="285,328.1 285.85,329.83 287.76,330.1 286.38,331.45 286.7,333.35 285,332.45 283.3,333.35 283.62,331.45 282.24,330.1 284.15,329.83" fill="#111"/>
<rect x="286.4" y="339.85" width="3.8" height="3.9" fill="#111"/>
<polygon points="299.3,324.3 300.15,326.03 302.06,326.3 300.68,327.65 301,329.55 299.3,328.65 297.6,329.55 297.92,327.65 296.54,326.3 298.45,326.03" fill="#111"/>
<polygon points="303.8,352.2 304.65,353.93 306.56,354.2 305.18,355.55 305.5,357.45 303.8,356.55 302.1,357.45 302.42,355.55 301.04,354.2 302.95,353.93" fill="#111"/>
<rect x="305.5" y="358.05" width="3.8" height="3.9" fill="#111"/>
<ellipse cx="320.4" cy="312" rx="2.05" ry="2.35" fill="#111"/>
<polygon points="320.4,315.4 321.25,317.13 323.16,317.4 321.78,318.75 322.1,320.65 320.4,319.75 318.7,320.65 319.02,318.75 317.64,317.4 319.55,317.13" fill="#111"/>
<rect x="321.6" y="340.05" width="3.8" height="3.9" fill="#111"/>
<rect x="326.1" y="354.95" width="3.8" height="3.9" fill="#111"/>
<polygon points="333,228.3 333.85,230.03 335.76,230.3 334.38,231.65 334.7,233.55 333,232.65 331.3,233.55 331.62,231.65 330.24,230.3 332.15,230.03" fill="#111"/>
<ellipse cx="351.4" cy="218.9" rx="2.05" ry="2.35" fill="#111"/>
<polygon points="351.4,222.2 352.25,223.93 354.16,224.2 352.78,225.55 353.1,227.45 351.4,226.55 349.7,227.45 350.02,225.55 348.64,224.2 350.55,223.93" fill="#111"/>
<rect x="352.5" y="282.55" width="3.8" height="3.9" fill="#111"/>
<ellipse cx="354.4" cy="290.2" rx="2.05" ry="2.35" fill="#111"/>
<rect x="356.1" y="324.95" width="3.8" height="3.9" fill="#111"/>
<polygon points="361.5,348.1 362.35,349.83 364.26,350.1 362.88,351.45 363.2,353.35 361.5,352.45 359.8,353.35 360.12,351.45 358.74,350.1 360.65,349.83" fill="#111"/>
<polygon points="365.3,335.6 366.15,337.33 368.06,337.6 366.68,338.95 367,340.85 365.3,339.95 363.6,340.85 363.92,338.95 362.54,337.6 364.45,337.33" fill="#111"/>
<ellipse cx="377.2" cy="355.2" rx="2.05" ry="2.35" fill="#111"/>
<polygon points="377.2,358.3 378.05,360.03 379.96,360.3 378.58,361.65 378.9,363.55 377.2,362.65 375.5,363.55 375.82,361.65 374.44,360.3 376.35,360.03" fill="#111"/>
<rect x="379.5" y="353.45" width="3.8" height="3.9" fill="#111"/>
<rect x="383.3" y="353.45" width="3.8" height="3.9" fill="#111"/>
<polygon points="388.4,358.3 389.25,360.03 391.16,360.3 389.78,361.65 390.1,363.55 388.4,362.65 386.7,363.55 387.02,361.65 385.64,360.3 387.55,360.03" fill="#111"/>
<polygon points="412,344.3 412.85,346.03 414.76,346.3 413.38,347.65 413.7,349.55 412,348.65 410.3,349.55 410.62,347.65 409.24,346.3 411.15,346.03" fill="#111"/>
<ellipse cx="416.2" cy="351.4" rx="2.05" ry="2.35" fill="#111"/>
<polygon points="416.2,353.8 417.05,355.53 418.96,355.8 417.58,357.15 417.9,359.05 416.2,358.15 414.5,359.05 414.82,357.15 413.44,355.8 415.35,355.53" fill="#111"/>
<rect x="416.8" y="360.55" width="3.8" height="3.9" fill="#111"/>
<polygon points="435.3,348.5 436.15,350.23 438.06,350.5 436.68,351.85 437,353.75 435.3,352.85 433.6,353.75 433.92,351.85 432.54,350.5 434.45,350.23" fill="#111"/>
<ellipse cx="449.3" cy="351.4" rx="2.05" ry="2.35" fill="#111"/>
<polygon points="449,354.4 449.85,356.13 451.76,356.4 450.38,357.75 450.7,359.65 449,358.75 447.3,359.65 447.62,357.75 446.24,356.4 448.15,356.13" fill="#111"/>
<rect x="450.2" y="339.95" width="3.8" height="3.9" fill="#111"/>
<ellipse cx="452.1" cy="347.1" rx="2.05" ry="2.35" fill="#111"/>
<polygon points="458.6,325.2 459.45,326.93 461.36,327.2 459.98,328.55 460.3,330.45 458.6,329.55 456.9,330.45 457.22,328.55 455.84,327.2 457.75,326.93" fill="#111"/>
<ellipse cx="471.3" cy="319.6" rx="2.05" ry="2.35" fill="#111"/>
<polygon points="471.3,322 472.15,323.73 474.06,324 472.68,325.35 473,327.25 471.3,326.35 469.6,327.25 469.92,325.35 468.54,324 470.45,323.73" fill="#111"/>
<polygon points="479.2,343.1 480.05,344.83 481.96,345.1 480.58,346.45 480.9,348.35 479.2,347.45 477.5,348.35 477.82,346.45 476.44,345.1 478.35,344.83" fill="#111"/>
<polygon points="499.3,355.9 500.15,357.63 502.06,357.9 500.68,359.25 501,361.15 499.3,360.25 497.6,361.15 497.92,359.25 496.54,357.9 498.45,357.63" fill="#111"/>
<polygon points="502.5,343.8 503.35,345.53 505.26,345.8 503.88,347.15 504.2,349.05 502.5,348.15 500.8,349.05 501.12,347.15 499.74,345.8 501.65,345.53" fill="#111"/>
<rect x="528" y="360.45" width="3.8" height="3.9" fill="#111"/>
<ellipse cx="533" cy="351" rx="2.05" ry="2.35" fill="#111"/>
<polygon points="533,354.1 533.85,355.83 535.76,356.1 534.38,357.45 534.7,359.35 533,358.45 531.3,359.35 531.62,357.45 530.24,356.1 532.15,355.83" fill="#111"/>
<rect x="535.1" y="347.25" width="3.8" height="3.9" fill="#111"/>
<rect x="538.1" y="330.65" width="3.8" height="3.9" fill="#111"/>
<ellipse cx="540" cy="338" rx="2.05" ry="2.35" fill="#111"/>
<polygon points="540,340.6 540.85,342.33 542.76,342.6 541.38,343.95 541.7,345.85 540,344.95 538.3,345.85 538.62,343.95 537.24,342.6 539.15,342.33" fill="#111"/>
<text transform="translate(266.9,334.2) rotate(-90)" font-size="5.6" fill="#ec4a3c" stroke="#ec4a3c" stroke-width="0.12" textLength="13.1" lengthAdjust="spacingAndGlyphs">(222)</text>
<text transform="translate(286.4,323.2) rotate(-90)" font-size="5.6" fill="#ec4a3c" stroke="#ec4a3c" stroke-width="0.12" textLength="12.4" lengthAdjust="spacingAndGlyphs">(400)</text>
<text transform="translate(286.4,309.7) rotate(-90)" font-size="5.6" fill="#5b5bab" stroke="#5b5bab" stroke-width="0.12" textLength="11.2" lengthAdjust="spacingAndGlyphs">(312)</text>
<text transform="translate(292.9,338.9) rotate(-90)" font-size="5.6" fill="#2a2a2a" stroke="#2a2a2a" stroke-width="0.12" textLength="11.2" lengthAdjust="spacingAndGlyphs">(112)</text>
<text transform="translate(301.2,324.3) rotate(-90)" font-size="5.6" fill="#ec4a3c" stroke="#ec4a3c" stroke-width="0.12" textLength="12.3" lengthAdjust="spacingAndGlyphs">(331)</text>
<text transform="translate(305.4,352.4) rotate(-90)" font-size="5.6" fill="#ec4a3c" stroke="#ec4a3c" stroke-width="0.12" textLength="13.5" lengthAdjust="spacingAndGlyphs">(420)</text>
<text transform="translate(308.9,355.8) rotate(-90)" font-size="5.6" fill="#2a2a2a" stroke="#2a2a2a" stroke-width="0.12" textLength="11.9" lengthAdjust="spacingAndGlyphs">(013)</text>
<text transform="translate(322.4,304.9) rotate(-90)" font-size="5.6" fill="#ec4a3c" stroke="#ec4a3c" stroke-width="0.12" textLength="11.9" lengthAdjust="spacingAndGlyphs">(422)</text>
<text transform="translate(322.4,292) rotate(-90)" font-size="5.6" fill="#5b5bab" stroke="#5b5bab" stroke-width="0.12" textLength="11" lengthAdjust="spacingAndGlyphs">(300)</text>
<text transform="translate(327.7,338) rotate(-90)" font-size="5.6" fill="#2a2a2a" stroke="#2a2a2a" stroke-width="0.12" textLength="13" lengthAdjust="spacingAndGlyphs">(130)</text>
<text transform="translate(331.3,352.2) rotate(-90)" font-size="5.6" fill="#2a2a2a" stroke="#2a2a2a" stroke-width="0.12" textLength="11.8" lengthAdjust="spacingAndGlyphs">(200)</text>
<text transform="translate(334.9,227.5) rotate(-90)" font-size="5.6" fill="#ec4a3c" stroke="#ec4a3c" stroke-width="0.12" textLength="11.8" lengthAdjust="spacingAndGlyphs">(422)</text>
<text transform="translate(359.2,228.5) rotate(-90)" font-size="5.6" fill="#ec4a3c" stroke="#ec4a3c" stroke-width="0.12" textLength="12.3" lengthAdjust="spacingAndGlyphs">(440)</text>
<text transform="translate(367.1,228.5) rotate(-90)" font-size="5.6" fill="#5b5bab" stroke="#5b5bab" stroke-width="0.12" textLength="12.3" lengthAdjust="spacingAndGlyphs">(302)</text>
<text transform="translate(356.7,266.8) rotate(-90)" font-size="5.6" fill="#2a2a2a" stroke="#2a2a2a" stroke-width="0.12" textLength="13.5" lengthAdjust="spacingAndGlyphs">(040)</text>
<text transform="translate(356.7,280.3) rotate(-90)" font-size="5.6" fill="#5b5bab" stroke="#5b5bab" stroke-width="0.12" textLength="12.4" lengthAdjust="spacingAndGlyphs">(004)</text>
<text transform="translate(361.8,330.9) rotate(-90)" font-size="5.6" fill="#2a2a2a" stroke="#2a2a2a" stroke-width="0.12" textLength="11.9" lengthAdjust="spacingAndGlyphs">(202)</text>
<text transform="translate(363.4,348.6) rotate(-90)" font-size="5.6" fill="#ec4a3c" stroke="#ec4a3c" stroke-width="0.12" textLength="11.8" lengthAdjust="spacingAndGlyphs">(511)</text>
<text transform="translate(367.2,335.6) rotate(-90)" font-size="5.6" fill="#ec4a3c" stroke="#ec4a3c" stroke-width="0.12" textLength="13" lengthAdjust="spacingAndGlyphs">(600)</text>
<text transform="translate(379.1,351.5) rotate(-90)" font-size="5.6" fill="#ec4a3c" stroke="#ec4a3c" stroke-width="0.12" textLength="11" lengthAdjust="spacingAndGlyphs">(620)</text>
<text transform="translate(379.1,340) rotate(-90)" font-size="5.6" fill="#5b5bab" stroke="#5b5bab" stroke-width="0.12" textLength="14" lengthAdjust="spacingAndGlyphs">(222)</text>
<text transform="translate(383.9,351) rotate(-90)" font-size="5.6" fill="#2a2a2a" stroke="#2a2a2a" stroke-width="0.12" textLength="10" lengthAdjust="spacingAndGlyphs">(024)</text>
<text transform="translate(389.9,348.5) rotate(-90)" font-size="5.6" fill="#2a2a2a" stroke="#2a2a2a" stroke-width="0.12" textLength="11.5" lengthAdjust="spacingAndGlyphs">(141)</text>
<text transform="translate(395.1,356.5) rotate(-90)" font-size="5.6" fill="#ec4a3c" stroke="#ec4a3c" stroke-width="0.12" textLength="11.3" lengthAdjust="spacingAndGlyphs">(531)</text>
<text transform="translate(413.4,344) rotate(-90)" font-size="5.6" fill="#ec4a3c" stroke="#ec4a3c" stroke-width="0.12" textLength="12" lengthAdjust="spacingAndGlyphs">(551)</text>
<text transform="translate(418.1,344) rotate(-90)" font-size="5.6" fill="#ec4a3c" stroke="#ec4a3c" stroke-width="0.12" textLength="11.6" lengthAdjust="spacingAndGlyphs">(440)</text>
<text transform="translate(418.1,331.3) rotate(-90)" font-size="5.6" fill="#5b5bab" stroke="#5b5bab" stroke-width="0.12" textLength="10.6" lengthAdjust="spacingAndGlyphs">(321)</text>
<text transform="translate(423.4,357.4) rotate(-90)" font-size="5.6" fill="#2a2a2a" stroke="#2a2a2a" stroke-width="0.12" textLength="13.4" lengthAdjust="spacingAndGlyphs">(031)</text>
<text transform="translate(437.2,346.1) rotate(-90)" font-size="5.6" fill="#ec4a3c" stroke="#ec4a3c" stroke-width="0.12" textLength="11.6" lengthAdjust="spacingAndGlyphs">(731)</text>
<text transform="translate(447.9,341.9) rotate(-90)" font-size="5.6" fill="#ec4a3c" stroke="#ec4a3c" stroke-width="0.12" textLength="10.6" lengthAdjust="spacingAndGlyphs">(800)</text>
<text transform="translate(447.9,331.3) rotate(-90)" font-size="5.6" fill="#5b5bab" stroke="#5b5bab" stroke-width="0.12" textLength="9.6" lengthAdjust="spacingAndGlyphs">(412)</text>
<text transform="translate(455.7,330.5) rotate(-90)" font-size="5.6" fill="#5b5bab" stroke="#5b5bab" stroke-width="0.12" textLength="10.2" lengthAdjust="spacingAndGlyphs">(224)</text>
<text transform="translate(455.7,319.8) rotate(-90)" font-size="5.6" fill="#2a2a2a" stroke="#2a2a2a" stroke-width="0.12" textLength="10.3" lengthAdjust="spacingAndGlyphs">(044)</text>
<text transform="translate(460.5,324.9) rotate(-90)" font-size="5.6" fill="#ec4a3c" stroke="#ec4a3c" stroke-width="0.12" textLength="12.7" lengthAdjust="spacingAndGlyphs">(644)</text>
<text transform="translate(473.2,314.3) rotate(-90)" font-size="5.6" fill="#ec4a3c" stroke="#ec4a3c" stroke-width="0.12" textLength="11.6" lengthAdjust="spacingAndGlyphs">(660)</text>
<text transform="translate(481.1,341.9) rotate(-90)" font-size="5.6" fill="#ec4a3c" stroke="#ec4a3c" stroke-width="0.12" textLength="12.7" lengthAdjust="spacingAndGlyphs">(751)</text>
<text transform="translate(498.1,355.6) rotate(-90)" font-size="5.6" fill="#ec4a3c" stroke="#ec4a3c" stroke-width="0.12" textLength="10.6" lengthAdjust="spacingAndGlyphs">(753)</text>
<text transform="translate(504.4,342.9) rotate(-90)" font-size="5.6" fill="#ec4a3c" stroke="#ec4a3c" stroke-width="0.12" textLength="11.6" lengthAdjust="spacingAndGlyphs">(862)</text>
<text transform="translate(529.4,359.3) rotate(-90)" font-size="5.6" fill="#2a2a2a" stroke="#2a2a2a" stroke-width="0.12" textLength="11.8" lengthAdjust="spacingAndGlyphs">(235)</text>
<text transform="translate(533,349.9) rotate(-90)" font-size="5.6" fill="#ec4a3c" stroke="#ec4a3c" stroke-width="0.12" textLength="10.7" lengthAdjust="spacingAndGlyphs">(844)</text>
<text transform="translate(533,336.8) rotate(-90)" font-size="5.6" fill="#5b5bab" stroke="#5b5bab" stroke-width="0.12" textLength="14.2" lengthAdjust="spacingAndGlyphs">(423)</text>
<text transform="translate(536.5,347.5) rotate(-90)" font-size="5.6" fill="#2a2a2a" stroke="#2a2a2a" stroke-width="0.12" textLength="11.8" lengthAdjust="spacingAndGlyphs">(136)</text>
<text transform="translate(541.2,330.9) rotate(-90)" font-size="5.6" fill="#ec4a3c" stroke="#ec4a3c" stroke-width="0.12" textLength="10.6" lengthAdjust="spacingAndGlyphs">(771)</text>
<text transform="translate(541.2,319.1) rotate(-90)" font-size="5.6" fill="#5b5bab" stroke="#5b5bab" stroke-width="0.12" textLength="10.7" lengthAdjust="spacingAndGlyphs">(306)</text>
<text transform="translate(541.2,306.1) rotate(-90)" font-size="5.6" fill="#2a2a2a" stroke="#2a2a2a" stroke-width="0.12" textLength="15.4" lengthAdjust="spacingAndGlyphs">(206)</text>
<text x="357.3" y="392.9" font-size="11.2" fill="#333">Two-theta(deg)</text>
<text transform="translate(228.2,332.6) rotate(-90)" font-size="11.4" fill="#333">Intensity(a.u.)</text>
<text x="216.0" y="217.3" font-size="18" fill="#1a1a1a" stroke="#1a1a1a" stroke-width="0.12">(d)</text>
<text x="477.1" y="32.2" font-size="9.4" fill="#ec4a3c">(hkl)</text>
<polygon points="500.1,26.2 501.19,28.4 503.62,28.76 501.86,30.47 502.27,32.89 500.1,31.75 497.93,32.89 498.34,30.47 496.58,28.76 499.01,28.4" fill="#111"/>
<text x="504.8" y="32.2" font-size="9" fill="#444">:</text>
<text x="511.5" y="32.7" font-size="8.4" fill="#333" stroke="#333" stroke-width="0.1" textLength="6.5" lengthAdjust="spacingAndGlyphs">Er</text>
<text x="477.1" y="43.1" font-size="9.4" fill="#5b5bab">(hkl)</text>
<ellipse cx="500.1" cy="40.4" rx="2.7" ry="3.05" fill="#111"/>
<text x="504.8" y="43.1" font-size="9" fill="#444">:</text>
<text x="511.5" y="44" font-size="8.4" fill="#333" stroke="#333" stroke-width="0.1" textLength="16.7" lengthAdjust="spacingAndGlyphs">ErFe<tspan font-size="5.8" dy="0.5">2</tspan></text>
<text x="477.1" y="54" font-size="9.4" fill="#2a2a2a">(hkl)</text>
<rect x="497.55" y="49" width="5.1" height="5.6" fill="#111"/>
<text x="504.8" y="54" font-size="9" fill="#444">:</text>
<text x="511.5" y="54.4" font-size="8.4" fill="#333" stroke="#333" stroke-width="0.1" textLength="26.6" lengthAdjust="spacingAndGlyphs">α(Fe,Cr)</text>
<text x="468.1" y="226.7" font-size="9.4" fill="#ec4a3c">(hkl)</text>
<polygon points="492.9,220.7 493.99,222.9 496.42,223.26 494.66,224.97 495.07,227.39 492.9,226.25 490.73,227.39 491.14,224.97 489.38,223.26 491.81,222.9" fill="#111"/>
<text x="497.8" y="226.7" font-size="9" fill="#444">:</text>
<text x="504.7" y="227.5" font-size="8.4" fill="#333" stroke="#333" stroke-width="0.1" textLength="23.2" lengthAdjust="spacingAndGlyphs">Er<tspan font-size="5.8" dy="0.5">6</tspan><tspan dy="-0.5">Fe</tspan><tspan font-size="5.8" dy="0.5">23</tspan></text>
<text x="468.1" y="237.7" font-size="9.4" fill="#5b5bab">(hkl)</text>
<ellipse cx="492.9" cy="235" rx="2.7" ry="3.05" fill="#111"/>
<text x="497.8" y="237.7" font-size="9" fill="#444">:</text>
<text x="504.7" y="238.4" font-size="8.4" fill="#333" stroke="#333" stroke-width="0.1" textLength="23" lengthAdjust="spacingAndGlyphs">Er<tspan font-size="5.8" dy="0.5">2</tspan><tspan dy="-0.5">Fe</tspan><tspan font-size="5.8" dy="0.5">17</tspan></text>
<text x="468.1" y="248.6" font-size="9.4" fill="#2a2a2a">(hkl)</text>
<rect x="490.35" y="243.4" width="5.1" height="5.6" fill="#111"/>
<text x="497.8" y="248.6" font-size="9" fill="#444">:</text>
<text x="504.7" y="249.1" font-size="8.4" fill="#333" stroke="#333" stroke-width="0.1" textLength="30.9" lengthAdjust="spacingAndGlyphs">ErCr<tspan font-size="5.8" dy="0.5">2</tspan><tspan dy="-0.5">Fe</tspan><tspan font-size="5.8" dy="0.5">10</tspan></text>
</svg></body></html>
